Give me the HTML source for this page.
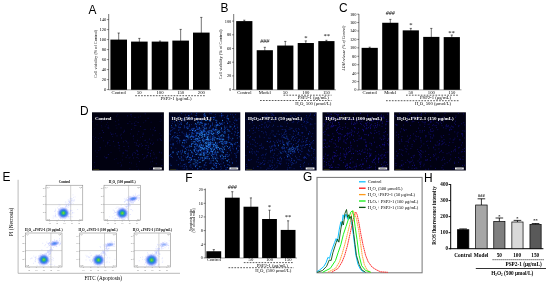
<!DOCTYPE html>
<html lang="en"><head><meta charset="utf-8"><title>Figure</title>
<style>html,body{margin:0;padding:0;background:#fff}svg{display:block}.f{font-family:"Liberation Serif", serif}.g{font-family:"Liberation Sans", sans-serif}</style></head><body>
<svg width="550" height="283" viewBox="0 0 550 283">
<rect width="550" height="283" fill="#fff"/>
<defs>
<radialGradient id="blob"><stop offset="0" stop-color="#9bd820"/><stop offset="0.16" stop-color="#3cc458"/><stop offset="0.3" stop-color="#22a0b0"/><stop offset="0.42" stop-color="#2a7de6"/><stop offset="0.6" stop-color="#4f7cf2" stop-opacity="0.8"/><stop offset="0.8" stop-color="#8a9cff" stop-opacity="0.35"/><stop offset="1" stop-color="#c8d0ff" stop-opacity="0"/></radialGradient>
<radialGradient id="blob2"><stop offset="0" stop-color="#3a86f0"/><stop offset="0.4" stop-color="#5b86f5" stop-opacity="0.8"/><stop offset="0.75" stop-color="#98a8ff" stop-opacity="0.4"/><stop offset="1" stop-color="#d0d6ff" stop-opacity="0"/></radialGradient>
<radialGradient id="halo"><stop offset="0" stop-color="#b4bcff" stop-opacity="0.7"/><stop offset="1" stop-color="#d8dcff" stop-opacity="0"/></radialGradient>
<radialGradient id="glowA"><stop offset="0" stop-color="#1c5fd0" stop-opacity="0.75"/><stop offset="0.5" stop-color="#123c9c" stop-opacity="0.45"/><stop offset="1" stop-color="#0a1a60" stop-opacity="0"/></radialGradient>
<radialGradient id="glowB"><stop offset="0" stop-color="#1c50c0" stop-opacity="0.6"/><stop offset="1" stop-color="#0a1a60" stop-opacity="0"/></radialGradient>
<radialGradient id="hole"><stop offset="0" stop-color="#01031c" stop-opacity="0.9"/><stop offset="1" stop-color="#01031c" stop-opacity="0"/></radialGradient>
</defs>
<text class="g" x="88.50" y="14.45" font-size="11.9">A</text>
<text class="g" x="220.60" y="11.70" font-size="11.9">B</text>
<text class="g" x="338.90" y="11.75" font-size="11.9">C</text>
<text class="g" x="80.00" y="114.95" font-size="11.9">D</text>
<text class="g" x="2.60" y="180.70" font-size="11.9">E</text>
<text class="g" x="185.25" y="181.80" font-size="11.9">F</text>
<text class="g" x="303.10" y="180.65" font-size="11.9">G</text>
<text class="g" x="424.05" y="182.10" font-size="11.9">H</text>
<line x1="108.70" y1="14.00" x2="108.70" y2="89.80" stroke="#000" stroke-width="0.55"/>
<line x1="107.10" y1="89.60" x2="108.70" y2="89.60" stroke="#000" stroke-width="0.5"/>
<text class="f" x="106.30" y="91.12" font-size="4.6" text-anchor="end">0</text>
<line x1="107.10" y1="79.60" x2="108.70" y2="79.60" stroke="#000" stroke-width="0.5"/>
<text class="f" x="106.30" y="81.12" font-size="4.6" text-anchor="end">20</text>
<line x1="107.10" y1="69.60" x2="108.70" y2="69.60" stroke="#000" stroke-width="0.5"/>
<text class="f" x="106.30" y="71.12" font-size="4.6" text-anchor="end">40</text>
<line x1="107.10" y1="59.60" x2="108.70" y2="59.60" stroke="#000" stroke-width="0.5"/>
<text class="f" x="106.30" y="61.12" font-size="4.6" text-anchor="end">60</text>
<line x1="107.10" y1="49.60" x2="108.70" y2="49.60" stroke="#000" stroke-width="0.5"/>
<text class="f" x="106.30" y="51.12" font-size="4.6" text-anchor="end">80</text>
<line x1="107.10" y1="39.60" x2="108.70" y2="39.60" stroke="#000" stroke-width="0.5"/>
<text class="f" x="106.30" y="41.12" font-size="4.6" text-anchor="end">100</text>
<line x1="107.10" y1="29.60" x2="108.70" y2="29.60" stroke="#000" stroke-width="0.5"/>
<text class="f" x="106.30" y="31.12" font-size="4.6" text-anchor="end">120</text>
<line x1="107.10" y1="19.60" x2="108.70" y2="19.60" stroke="#000" stroke-width="0.5"/>
<text class="f" x="106.30" y="21.12" font-size="4.6" text-anchor="end">140</text>
<rect x="110.40" y="39.60" width="16.60" height="50.20" fill="#000"/>
<line x1="118.70" y1="33.00" x2="118.70" y2="40.10" stroke="#000" stroke-width="0.55"/>
<line x1="117.60" y1="33.00" x2="119.80" y2="33.00" stroke="#000" stroke-width="0.55"/>
<rect x="131.05" y="41.60" width="16.60" height="48.20" fill="#000"/>
<line x1="139.35" y1="38.40" x2="139.35" y2="42.10" stroke="#000" stroke-width="0.55"/>
<line x1="138.25" y1="38.40" x2="140.45" y2="38.40" stroke="#000" stroke-width="0.55"/>
<rect x="151.70" y="41.60" width="16.60" height="48.20" fill="#000"/>
<line x1="160.00" y1="41.00" x2="160.00" y2="42.10" stroke="#000" stroke-width="0.55"/>
<line x1="158.90" y1="41.00" x2="161.10" y2="41.00" stroke="#000" stroke-width="0.55"/>
<rect x="172.35" y="40.60" width="16.60" height="49.20" fill="#000"/>
<line x1="180.65" y1="29.40" x2="180.65" y2="41.10" stroke="#000" stroke-width="0.55"/>
<line x1="179.55" y1="29.40" x2="181.75" y2="29.40" stroke="#000" stroke-width="0.55"/>
<rect x="193.00" y="32.60" width="16.60" height="57.20" fill="#000"/>
<line x1="201.30" y1="17.40" x2="201.30" y2="33.10" stroke="#000" stroke-width="0.55"/>
<line x1="200.20" y1="17.40" x2="202.40" y2="17.40" stroke="#000" stroke-width="0.55"/>
<line x1="108.70" y1="89.80" x2="211.00" y2="89.80" stroke="#000" stroke-width="0.4"/>
<text class="f" x="118.70" y="94.20" font-size="4.7" text-anchor="middle">Control</text>
<text class="f" x="139.35" y="94.20" font-size="4.7" text-anchor="middle">50</text>
<text class="f" x="160.00" y="94.20" font-size="4.7" text-anchor="middle">100</text>
<text class="f" x="180.65" y="94.20" font-size="4.7" text-anchor="middle">150</text>
<text class="f" x="201.30" y="94.20" font-size="4.7" text-anchor="middle">200</text>
<text class="f" x="96.80" y="53.80" font-size="4.2" text-anchor="middle" transform="rotate(-90 96.80 53.80)">Cell viability (% of Control)</text>
<line x1="135.20" y1="95.70" x2="205.60" y2="95.70" stroke="#000" stroke-width="0.65" stroke-dasharray="1.7 1.25"/>
<text class="f" x="191.50" y="99.90" font-size="4.7" text-anchor="end">PSP2-1 (μg/mL)</text>
<line x1="233.70" y1="14.00" x2="233.70" y2="89.80" stroke="#000" stroke-width="0.55"/>
<line x1="232.10" y1="89.60" x2="233.70" y2="89.60" stroke="#000" stroke-width="0.5"/>
<text class="f" x="231.30" y="91.05" font-size="4.4" text-anchor="end">0</text>
<line x1="232.10" y1="75.90" x2="233.70" y2="75.90" stroke="#000" stroke-width="0.5"/>
<text class="f" x="231.30" y="77.35" font-size="4.4" text-anchor="end">20</text>
<line x1="232.10" y1="62.20" x2="233.70" y2="62.20" stroke="#000" stroke-width="0.5"/>
<text class="f" x="231.30" y="63.65" font-size="4.4" text-anchor="end">40</text>
<line x1="232.10" y1="48.50" x2="233.70" y2="48.50" stroke="#000" stroke-width="0.5"/>
<text class="f" x="231.30" y="49.95" font-size="4.4" text-anchor="end">60</text>
<line x1="232.10" y1="34.80" x2="233.70" y2="34.80" stroke="#000" stroke-width="0.5"/>
<text class="f" x="231.30" y="36.25" font-size="4.4" text-anchor="end">80</text>
<line x1="232.10" y1="21.10" x2="233.70" y2="21.10" stroke="#000" stroke-width="0.5"/>
<text class="f" x="231.30" y="22.55" font-size="4.4" text-anchor="end">100</text>
<rect x="236.20" y="21.10" width="16.20" height="68.70" fill="#000"/>
<line x1="244.30" y1="20.20" x2="244.30" y2="21.60" stroke="#000" stroke-width="0.55"/>
<line x1="243.20" y1="20.20" x2="245.40" y2="20.20" stroke="#000" stroke-width="0.55"/>
<rect x="256.70" y="50.21" width="16.20" height="39.59" fill="#000"/>
<line x1="264.80" y1="47.30" x2="264.80" y2="50.71" stroke="#000" stroke-width="0.55"/>
<line x1="263.70" y1="47.30" x2="265.90" y2="47.30" stroke="#000" stroke-width="0.55"/>
<rect x="277.20" y="45.55" width="16.20" height="44.25" fill="#000"/>
<line x1="285.30" y1="41.40" x2="285.30" y2="46.05" stroke="#000" stroke-width="0.55"/>
<line x1="284.20" y1="41.40" x2="286.40" y2="41.40" stroke="#000" stroke-width="0.55"/>
<rect x="297.70" y="43.02" width="16.20" height="46.78" fill="#000"/>
<line x1="305.80" y1="40.90" x2="305.80" y2="43.52" stroke="#000" stroke-width="0.55"/>
<line x1="304.70" y1="40.90" x2="306.90" y2="40.90" stroke="#000" stroke-width="0.55"/>
<rect x="318.30" y="41.10" width="16.20" height="48.70" fill="#000"/>
<line x1="326.40" y1="40.30" x2="326.40" y2="41.60" stroke="#000" stroke-width="0.55"/>
<line x1="325.30" y1="40.30" x2="327.50" y2="40.30" stroke="#000" stroke-width="0.55"/>
<line x1="233.70" y1="89.80" x2="336.00" y2="89.80" stroke="#000" stroke-width="0.4"/>
<text class="f" x="244.30" y="94.25" font-size="4.7" text-anchor="middle">Control</text>
<text class="f" x="264.80" y="94.25" font-size="4.7" text-anchor="middle">Model</text>
<text class="f" x="285.30" y="94.25" font-size="4.7" text-anchor="middle">50</text>
<text class="f" x="305.80" y="94.25" font-size="4.7" text-anchor="middle">100</text>
<text class="f" x="326.40" y="94.25" font-size="4.7" text-anchor="middle">150</text>
<text class="f" x="264.80" y="42.60" font-size="6.2" text-anchor="middle" font-style="italic">###</text>
<text class="f" x="306.00" y="39.90" font-size="6.6" text-anchor="middle">*</text>
<text class="f" x="326.70" y="38.10" font-size="6.6" text-anchor="middle">**</text>
<text class="f" x="222.00" y="54.40" font-size="4.35" text-anchor="middle" transform="rotate(-90 222.00 54.40)">Cell viability (% of Control)</text>
<line x1="283.50" y1="95.20" x2="331.50" y2="95.20" stroke="#000" stroke-width="0.65" stroke-dasharray="1.7 1.25"/>
<line x1="260.00" y1="100.50" x2="331.50" y2="100.50" stroke="#000" stroke-width="0.65" stroke-dasharray="1.7 1.25"/>
<text class="f" x="328.80" y="99.20" font-size="4.7" text-anchor="end">PSP2-1 (μg/mL)</text>
<text class="f" x="331.20" y="104.90" font-size="4.7" text-anchor="end">H<tspan font-size="60%" dy="0.9">2</tspan><tspan dy="-0.9">O</tspan><tspan font-size="60%" dy="0.9">2</tspan><tspan dy="-0.9"> 500 (μmol/L)</tspan></text>
<line x1="358.90" y1="14.00" x2="358.90" y2="89.80" stroke="#000" stroke-width="0.55"/>
<line x1="357.30" y1="90.00" x2="358.90" y2="90.00" stroke="#000" stroke-width="0.5"/>
<text class="f" x="356.50" y="91.45" font-size="4.4" text-anchor="end">0</text>
<line x1="357.30" y1="81.57" x2="358.90" y2="81.57" stroke="#000" stroke-width="0.5"/>
<text class="f" x="356.50" y="83.02" font-size="4.4" text-anchor="end">20</text>
<line x1="357.30" y1="73.14" x2="358.90" y2="73.14" stroke="#000" stroke-width="0.5"/>
<text class="f" x="356.50" y="74.59" font-size="4.4" text-anchor="end">40</text>
<line x1="357.30" y1="64.71" x2="358.90" y2="64.71" stroke="#000" stroke-width="0.5"/>
<text class="f" x="356.50" y="66.16" font-size="4.4" text-anchor="end">60</text>
<line x1="357.30" y1="56.28" x2="358.90" y2="56.28" stroke="#000" stroke-width="0.5"/>
<text class="f" x="356.50" y="57.73" font-size="4.4" text-anchor="end">80</text>
<line x1="357.30" y1="47.85" x2="358.90" y2="47.85" stroke="#000" stroke-width="0.5"/>
<text class="f" x="356.50" y="49.30" font-size="4.4" text-anchor="end">100</text>
<line x1="357.30" y1="39.42" x2="358.90" y2="39.42" stroke="#000" stroke-width="0.5"/>
<text class="f" x="356.50" y="40.87" font-size="4.4" text-anchor="end">120</text>
<line x1="357.30" y1="30.99" x2="358.90" y2="30.99" stroke="#000" stroke-width="0.5"/>
<text class="f" x="356.50" y="32.44" font-size="4.4" text-anchor="end">140</text>
<line x1="357.30" y1="22.56" x2="358.90" y2="22.56" stroke="#000" stroke-width="0.5"/>
<text class="f" x="356.50" y="24.01" font-size="4.4" text-anchor="end">160</text>
<line x1="357.30" y1="14.13" x2="358.90" y2="14.13" stroke="#000" stroke-width="0.5"/>
<text class="f" x="356.50" y="15.58" font-size="4.4" text-anchor="end">180</text>
<rect x="361.60" y="47.85" width="16.20" height="41.95" fill="#000"/>
<line x1="369.70" y1="47.20" x2="369.70" y2="48.35" stroke="#000" stroke-width="0.55"/>
<line x1="368.60" y1="47.20" x2="370.80" y2="47.20" stroke="#000" stroke-width="0.55"/>
<rect x="382.20" y="22.77" width="16.20" height="67.03" fill="#000"/>
<line x1="390.30" y1="19.40" x2="390.30" y2="23.27" stroke="#000" stroke-width="0.55"/>
<line x1="389.20" y1="19.40" x2="391.40" y2="19.40" stroke="#000" stroke-width="0.55"/>
<rect x="402.70" y="30.36" width="16.20" height="59.44" fill="#000"/>
<line x1="410.80" y1="28.40" x2="410.80" y2="30.86" stroke="#000" stroke-width="0.55"/>
<line x1="409.70" y1="28.40" x2="411.90" y2="28.40" stroke="#000" stroke-width="0.55"/>
<rect x="423.20" y="36.89" width="16.20" height="52.91" fill="#000"/>
<line x1="431.30" y1="28.40" x2="431.30" y2="37.39" stroke="#000" stroke-width="0.55"/>
<line x1="430.20" y1="28.40" x2="432.40" y2="28.40" stroke="#000" stroke-width="0.55"/>
<rect x="443.70" y="37.10" width="16.20" height="52.70" fill="#000"/>
<line x1="451.80" y1="35.00" x2="451.80" y2="37.60" stroke="#000" stroke-width="0.55"/>
<line x1="450.70" y1="35.00" x2="452.90" y2="35.00" stroke="#000" stroke-width="0.55"/>
<line x1="358.90" y1="89.80" x2="461.50" y2="89.80" stroke="#000" stroke-width="0.4"/>
<text class="f" x="369.70" y="94.25" font-size="4.7" text-anchor="middle">Control</text>
<text class="f" x="390.30" y="94.25" font-size="4.7" text-anchor="middle">Model</text>
<text class="f" x="410.80" y="94.25" font-size="4.7" text-anchor="middle">50</text>
<text class="f" x="431.30" y="94.25" font-size="4.7" text-anchor="middle">100</text>
<text class="f" x="451.80" y="94.25" font-size="4.7" text-anchor="middle">150</text>
<text class="f" x="390.30" y="14.90" font-size="6.2" text-anchor="middle" font-style="italic">###</text>
<text class="f" x="411.00" y="27.20" font-size="6.6" text-anchor="middle">*</text>
<text class="f" x="451.60" y="34.60" font-size="6.6" text-anchor="middle">**</text>
<text class="f" x="345.10" y="48.00" font-size="4.0" text-anchor="middle" transform="rotate(-90 345.10 48.00)" font-style="italic">LDH release (% of Control)</text>
<line x1="406.00" y1="95.20" x2="458.50" y2="95.20" stroke="#000" stroke-width="0.65" stroke-dasharray="1.7 1.25"/>
<line x1="386.00" y1="100.70" x2="458.50" y2="100.70" stroke="#000" stroke-width="0.65" stroke-dasharray="1.7 1.25"/>
<text class="f" x="451.00" y="99.40" font-size="4.7" text-anchor="end">PSP2-1 (μg/mL)</text>
<text class="f" x="451.00" y="105.30" font-size="4.7" text-anchor="end">H<tspan font-size="60%" dy="0.9">2</tspan><tspan dy="-0.9">O</tspan><tspan font-size="60%" dy="0.9">2</tspan><tspan dy="-0.9"> 500 (μmol/L)</tspan></text>
<rect x="92.00" y="112.30" width="71.90" height="58.20" fill="#010110"/>
<path d="M115.6 121.6h0M138.6 117.2h0M130.5 133.8h0M96.9 141.8h0M95.4 137.6h0M97.7 118.2h0M122.6 159.9h0M101.5 125.7h0M136.9 166.7h0M133.4 135.6h0M161.4 115.7h0M153.2 129.5h0M102.9 119.8h0M114.5 159.3h0M105.5 146.0h0M137.7 134.2h0M131.3 116.7h0M97.0 124.8h0M140.6 137.3h0M114.9 146.2h0M124.7 130.1h0M148.6 152.7h0M110.0 145.6h0M129.7 162.6h0M144.1 129.4h0M161.7 119.8h0M122.2 156.0h0M103.5 140.8h0M95.6 150.9h0M146.5 145.5h0M154.3 130.9h0M141.7 146.7h0M133.6 138.9h0M151.8 166.6h0M126.1 150.7h0M97.1 152.8h0M138.3 169.3h0M150.6 129.2h0M119.9 150.9h0M94.4 139.2h0M104.6 119.7h0M96.9 156.6h0M101.9 127.1h0M120.3 162.4h0M98.5 138.5h0M131.4 163.1h0M150.4 162.0h0M112.4 136.6h0M118.0 163.1h0M160.1 121.6h0M105.2 126.2h0M109.2 140.5h0M134.2 128.0h0M93.1 136.8h0M118.8 145.2h0M159.8 152.2h0M129.0 148.1h0M140.3 116.2h0M156.0 157.2h0M154.3 158.3h0M120.4 135.7h0M100.1 149.0h0M97.2 116.9h0M107.5 122.3h0M116.7 116.1h0M92.8 121.7h0M99.9 133.7h0M94.6 162.6h0M136.0 121.5h0M110.5 132.8h0M118.4 120.1h0M152.5 169.3h0M125.6 140.5h0M98.8 118.9h0M116.9 128.1h0M151.1 122.2h0M94.4 166.9h0M129.9 121.4h0M131.0 114.6h0M129.9 168.5h0M153.5 152.5h0M111.2 133.9h0M104.5 156.8h0M130.2 157.2h0M116.0 125.7h0M149.8 168.8h0M152.7 158.7h0M150.3 155.0h0M108.7 142.4h0M117.8 114.7h0M94.8 128.9h0M111.0 152.3h0M160.0 138.4h0M158.7 169.0h0M159.9 133.7h0M108.3 125.9h0M106.6 124.7h0M136.7 164.1h0M151.9 140.2h0M138.7 158.4h0M98.8 150.5h0M156.8 157.4h0M145.5 140.2h0M105.4 157.8h0M116.2 158.4h0M161.1 135.5h0M121.0 166.7h0M143.8 122.7h0M101.7 121.7h0M156.4 158.7h0" stroke="#15157a" stroke-width="0.9" stroke-linecap="round" fill="none" opacity="0.55"/>
<path d="M156.2 163.8h0M161.2 140.5h0M126.1 157.3h0M139.8 144.7h0M160.8 139.3h0M101.3 137.6h0M108.3 154.5h0M143.1 134.4h0M137.8 154.7h0M139.3 161.6h0M137.0 157.6h0M161.9 165.5h0M127.3 155.3h0M108.0 127.8h0M106.6 158.0h0M118.3 142.8h0M134.9 142.6h0M128.5 146.3h0M146.5 157.0h0M134.8 125.4h0M129.1 158.0h0M111.7 134.6h0M154.1 154.1h0M138.1 154.3h0M140.7 126.5h0M113.0 134.1h0M152.8 135.1h0M123.6 132.2h0M113.5 141.4h0M119.1 148.1h0M100.2 147.6h0M127.7 115.8h0M149.6 139.1h0M102.3 130.7h0M142.7 136.6h0M150.5 153.5h0M148.7 147.6h0M159.3 152.2h0M145.2 113.8h0M152.3 161.3h0M133.2 136.4h0M123.2 152.7h0M147.0 155.6h0M123.5 141.8h0M142.7 154.6h0M137.4 140.3h0M121.7 138.0h0M152.3 144.4h0M124.4 131.2h0M147.9 149.7h0M136.9 150.3h0M106.9 157.5h0M143.2 133.2h0M159.2 168.3h0M115.6 133.7h0M142.7 145.6h0M131.6 129.4h0M118.9 124.2h0M124.0 146.6h0M103.4 132.5h0M137.1 150.3h0M126.4 141.3h0M145.3 148.3h0M148.2 145.9h0M132.8 154.0h0M138.8 131.4h0M128.0 143.0h0M136.2 145.2h0M138.0 145.5h0M135.9 125.4h0M144.7 157.8h0M145.0 140.4h0M145.1 129.5h0M107.7 143.8h0M123.1 153.4h0M121.4 165.1h0M131.9 123.8h0M125.8 150.3h0M145.9 145.5h0M161.7 152.9h0M137.7 151.4h0M154.4 127.8h0M135.6 153.2h0M133.3 158.0h0M147.5 155.7h0M157.8 140.0h0M132.5 155.2h0M153.7 143.1h0M119.3 145.6h0M143.8 158.8h0M150.5 143.3h0M151.7 150.6h0M141.3 143.8h0M134.1 152.6h0M121.1 134.2h0M138.1 122.5h0M131.0 114.9h0M127.1 151.0h0M147.1 142.2h0M134.3 123.2h0M155.5 130.6h0M135.0 117.5h0M150.5 156.1h0M107.6 142.3h0M148.1 118.3h0M108.8 128.1h0M127.9 123.4h0M138.5 146.5h0M148.1 152.8h0M162.0 159.3h0M117.0 135.9h0M121.0 127.9h0M136.7 143.1h0M145.8 120.8h0M118.2 142.7h0" stroke="#1c1c9a" stroke-width="0.9" stroke-linecap="round" fill="none" opacity="0.7"/>
<text class="f" x="94.90" y="119.60" font-size="5.0" font-weight="bold" fill="#fff">Control</text>
<rect x="153.00" y="167.50" width="8.80" height="2.00" fill="#f4f4f4"/>
<line x1="154.50" y1="168.60" x2="160.30" y2="168.60" stroke="#555" stroke-width="0.5"/>
<line x1="93.20" y1="169.60" x2="99.20" y2="169.60" stroke="#5a5a10" stroke-width="0.5"/>
<rect x="168.90" y="112.30" width="71.40" height="58.20" fill="#01031e"/>
<ellipse cx="207.0" cy="142.0" rx="30.0" ry="26.0" fill="url(#glowA)" opacity="0.15"/>
<path d="M215.7 116.8h0M221.1 127.4h0M174.9 128.1h0M220.6 124.7h0M221.3 168.3h0M204.2 134.8h0M203.1 151.8h0M223.2 148.0h0M214.6 117.5h0M180.0 127.5h0M221.6 130.3h0M209.3 113.8h0M173.9 128.3h0M216.6 152.3h0M216.9 129.6h0M205.8 139.4h0M202.3 119.8h0M232.1 124.4h0M238.0 166.1h0M170.9 139.1h0M226.9 167.9h0M201.1 128.3h0M184.3 166.6h0M184.4 146.0h0M179.6 142.8h0M236.2 120.6h0M227.0 141.9h0M231.6 152.9h0M185.9 163.9h0M203.6 114.5h0M170.0 140.9h0M201.2 130.2h0M179.5 132.6h0M191.8 160.7h0M169.8 155.6h0M228.3 119.9h0M234.4 153.5h0M232.6 129.5h0M195.7 135.3h0M239.4 146.4h0M194.9 137.3h0M188.9 115.8h0M176.8 160.3h0M189.6 166.1h0M187.1 128.1h0M205.4 123.8h0M195.8 167.2h0M231.4 159.1h0M213.7 164.8h0M235.4 144.2h0M219.9 115.9h0M220.8 138.6h0M222.2 149.6h0M189.7 115.9h0M234.4 120.3h0M202.7 132.6h0M190.5 154.9h0M237.8 127.8h0M215.5 130.1h0M208.6 135.4h0M181.4 122.2h0M184.2 164.4h0M204.4 125.6h0M233.0 169.5h0M201.1 121.0h0M183.1 118.2h0M193.6 118.3h0M186.4 127.7h0M209.5 163.3h0M222.0 136.5h0M198.6 142.8h0M196.0 132.2h0M174.0 128.8h0M237.2 120.2h0M204.8 148.7h0M229.9 125.3h0M188.6 127.2h0M197.6 138.3h0M236.3 161.1h0M230.6 114.3h0M172.0 153.3h0M232.2 139.9h0M210.7 113.1h0M197.0 165.6h0M227.3 161.5h0M237.6 127.2h0M177.3 121.8h0M206.2 151.7h0M235.4 154.0h0M214.9 156.4h0M201.6 144.3h0M172.5 157.4h0M185.9 165.2h0M214.8 130.3h0M178.6 127.4h0M214.1 152.6h0M177.5 117.1h0M206.3 146.1h0M196.8 125.8h0M211.7 113.7h0M190.7 139.2h0M236.6 149.6h0M231.4 140.0h0M186.1 127.1h0M236.8 153.0h0M191.2 114.3h0M204.5 151.3h0M199.0 127.7h0M216.3 165.5h0M185.5 115.0h0M193.3 136.9h0M217.3 124.3h0M225.3 154.9h0M204.9 124.7h0M237.4 130.7h0M226.9 126.2h0M185.2 156.1h0M190.3 167.0h0M204.3 123.7h0M185.3 136.7h0M216.1 166.8h0M179.9 135.4h0M184.6 168.2h0M179.6 116.0h0M173.9 135.4h0M232.4 163.1h0M220.8 169.6h0M234.7 131.7h0M182.6 166.1h0M221.8 114.9h0M216.1 134.5h0M195.8 131.9h0M181.5 113.3h0M189.2 133.0h0M236.4 120.1h0M237.0 124.8h0M194.6 159.6h0M227.1 137.6h0M173.1 139.9h0M195.7 165.1h0M183.2 133.7h0M232.3 114.8h0M198.4 159.0h0M223.2 115.4h0M172.1 116.6h0M233.9 127.6h0M221.9 164.0h0M193.4 128.5h0M236.5 148.0h0M188.0 153.7h0M191.8 128.7h0M170.0 155.9h0M233.7 149.0h0M235.5 114.5h0M186.0 140.0h0M236.5 167.1h0M196.7 127.3h0M199.7 141.0h0M234.5 123.5h0M225.7 154.9h0M227.1 156.8h0M212.1 131.7h0M192.0 133.6h0M224.3 117.6h0M183.5 155.7h0M187.0 116.8h0M172.1 144.4h0M192.4 168.6h0M231.4 169.0h0M188.2 117.9h0M176.4 141.3h0M219.2 138.4h0M186.0 136.7h0M213.0 151.3h0M221.9 161.0h0M216.1 120.0h0M228.4 129.7h0M209.3 134.2h0M221.2 124.4h0M187.0 127.0h0M180.4 163.1h0M210.1 131.6h0M197.3 169.3h0M205.1 126.2h0M226.1 150.1h0M238.9 118.9h0M202.8 159.5h0M228.4 164.9h0M172.5 129.7h0M178.0 123.8h0M237.6 146.1h0M234.6 134.2h0M230.2 138.5h0M187.8 157.1h0M235.7 119.1h0M211.3 148.2h0M184.9 134.0h0M179.6 124.6h0M187.5 147.0h0M215.2 124.6h0M170.5 131.6h0M217.0 123.6h0M191.5 124.6h0M225.2 144.1h0M174.1 118.8h0M197.3 144.2h0M214.3 118.3h0M181.1 152.5h0M198.3 129.1h0M191.2 167.1h0M191.5 145.2h0M194.6 136.7h0M230.0 169.5h0M195.1 124.3h0M220.5 124.6h0M170.1 164.1h0M199.3 159.5h0M198.1 163.1h0M201.9 122.3h0M170.7 144.3h0M214.4 164.6h0M175.9 148.3h0M195.6 141.7h0M179.9 129.1h0M206.1 165.5h0M177.3 140.9h0M225.9 167.8h0M183.5 120.3h0M235.5 168.3h0M203.4 116.1h0M234.3 135.1h0M232.8 148.2h0M227.3 122.2h0M224.6 125.7h0M197.9 161.0h0M227.6 123.5h0M184.9 135.7h0M205.8 134.8h0M178.3 127.1h0M220.3 163.9h0M172.6 144.9h0M222.6 115.3h0M228.2 119.8h0M211.5 144.2h0M213.5 130.4h0M199.0 146.1h0M199.4 150.4h0M200.9 137.9h0M171.3 148.1h0M203.9 126.4h0M223.0 157.2h0M201.7 123.3h0M202.7 119.2h0M178.7 137.5h0M176.1 138.1h0M205.3 115.4h0M214.1 117.8h0M220.9 157.1h0M205.4 116.2h0M204.9 134.5h0M236.1 120.8h0M229.5 169.5h0M220.8 159.2h0M183.2 168.7h0M204.0 167.2h0M233.6 122.4h0M224.7 165.8h0M174.3 133.0h0M222.5 122.1h0M232.3 128.7h0M226.6 121.2h0M204.8 165.2h0M184.2 128.0h0M205.0 131.2h0M172.3 123.4h0M181.0 166.1h0M217.1 163.8h0M181.5 157.5h0M177.7 143.1h0M214.1 133.5h0M230.6 144.5h0M210.2 163.1h0M177.0 169.3h0M213.7 135.4h0M225.4 128.1h0M238.8 145.8h0M194.8 156.4h0M200.6 123.1h0M221.6 115.8h0M226.9 127.5h0M214.3 168.8h0M210.6 150.7h0M191.5 113.2h0M172.1 121.6h0M212.7 137.6h0M205.5 163.8h0M178.9 126.0h0M215.3 114.4h0M169.9 133.2h0M177.1 133.3h0" stroke="#0f2a96" stroke-width="1.0" stroke-linecap="round" fill="none" opacity="0.8"/>
<path d="M211.0 162.9h0M196.1 136.3h0M191.6 129.2h0M207.4 151.1h0M229.3 154.9h0M229.9 121.8h0M194.9 149.2h0M234.3 143.7h0M190.7 136.3h0M194.4 128.3h0M235.5 132.0h0M229.5 147.4h0M195.4 148.6h0M237.8 152.0h0M231.0 143.6h0M216.8 138.8h0M215.1 162.8h0M179.8 141.0h0M211.6 132.9h0M201.1 154.6h0M213.2 117.2h0M206.4 124.1h0M205.9 124.5h0M208.3 149.5h0M207.6 146.5h0M190.8 164.9h0M203.4 129.8h0M187.8 136.3h0M212.5 123.1h0M204.4 164.8h0M220.0 139.6h0M209.4 140.1h0M206.1 153.7h0M206.6 127.8h0M219.4 132.2h0M187.1 124.0h0M171.3 147.8h0M178.8 151.9h0M192.3 136.1h0M213.3 163.7h0M209.7 144.9h0M201.1 149.3h0M212.5 142.8h0M197.5 120.8h0M196.9 117.3h0M230.3 150.6h0M184.1 164.3h0M217.1 148.8h0M210.8 144.7h0M227.0 118.1h0M183.4 119.7h0M196.4 132.3h0M214.0 146.3h0M207.6 131.2h0M198.6 157.2h0M221.5 143.6h0M200.9 166.8h0M195.7 152.4h0M228.9 137.8h0M222.7 124.1h0M226.2 145.2h0M176.9 152.7h0M190.0 162.5h0M194.1 139.4h0M212.4 136.7h0M211.9 133.1h0M219.8 142.1h0M229.1 142.5h0M173.1 143.5h0M215.9 159.1h0M186.4 166.8h0M204.2 152.9h0M200.0 124.1h0M227.8 156.5h0M236.2 155.7h0M196.1 115.4h0M194.6 131.2h0M191.5 151.3h0M213.2 137.7h0M210.3 139.7h0M211.0 154.0h0M225.2 131.0h0M178.4 164.8h0M209.2 159.7h0M175.8 136.7h0M207.5 118.9h0M197.2 153.6h0M227.5 167.5h0M190.6 119.6h0M216.9 157.0h0M210.7 121.2h0M221.9 154.7h0M217.5 134.2h0M212.8 154.7h0M213.2 149.7h0M207.3 156.2h0M195.9 140.7h0M201.2 151.1h0M237.3 138.0h0M222.0 151.4h0M204.9 125.0h0M216.0 163.5h0M217.1 148.8h0M203.2 144.7h0M179.9 158.8h0M199.2 124.3h0M192.7 128.8h0M223.3 158.9h0M181.2 156.8h0M223.9 132.7h0M178.8 130.1h0M195.0 147.5h0M211.4 117.5h0M224.2 122.7h0M193.8 128.3h0M196.7 162.8h0M223.2 151.6h0M213.1 117.2h0M197.1 133.2h0M188.4 150.1h0M192.9 130.6h0M218.3 163.3h0M210.3 126.4h0M230.1 146.8h0M224.6 165.7h0M228.4 134.9h0M227.0 154.4h0M177.8 135.5h0M179.9 140.3h0M218.0 124.9h0M214.2 165.5h0M181.9 159.0h0M203.0 146.3h0M204.1 158.0h0M226.7 143.4h0M181.2 153.9h0M198.1 152.1h0M212.0 168.0h0M228.6 134.8h0M196.8 148.9h0M229.6 162.1h0M216.9 120.9h0M183.0 146.0h0M190.6 160.2h0M221.6 115.3h0M191.5 144.7h0M197.6 139.5h0M215.9 129.0h0M215.9 131.8h0M196.7 150.6h0M196.1 146.6h0M237.4 142.4h0M204.2 153.8h0M200.1 159.3h0M182.6 151.9h0M197.3 129.2h0M234.6 126.4h0M229.8 165.3h0M204.8 139.9h0M199.0 131.9h0M215.5 147.3h0M210.4 169.5h0M200.8 149.6h0M234.7 125.9h0M181.3 124.4h0M216.5 165.3h0M176.3 136.9h0M170.6 154.5h0M193.0 137.7h0M208.0 150.7h0M200.4 142.2h0M196.6 143.8h0M184.7 143.0h0M170.3 134.2h0M183.1 146.1h0M188.5 115.6h0M193.0 153.8h0M214.3 140.4h0M189.4 124.7h0M232.6 145.9h0M185.2 140.8h0M211.0 139.5h0M201.7 120.0h0M187.0 169.0h0M192.6 155.5h0M174.8 137.6h0M212.0 158.6h0M185.7 151.5h0M214.3 130.2h0M216.1 127.6h0M191.9 141.7h0M188.0 118.6h0M198.9 154.2h0M199.3 162.3h0M185.0 121.0h0M236.5 148.4h0M225.0 128.8h0M222.3 146.2h0M219.3 142.4h0M229.9 131.6h0M188.7 118.4h0M229.1 130.2h0M187.2 127.0h0M198.5 121.7h0M201.5 132.0h0M196.5 126.6h0M207.7 134.6h0M209.2 146.0h0M196.8 129.3h0M221.7 116.8h0M193.4 137.3h0M200.6 157.9h0M198.6 157.4h0M230.2 149.0h0M216.3 144.0h0M216.2 122.5h0M225.0 133.5h0M225.7 143.4h0M228.4 139.8h0M199.5 145.9h0M198.9 133.3h0M208.9 144.3h0M235.8 142.7h0M209.5 144.2h0M204.3 130.3h0M205.7 131.7h0M238.2 150.6h0M206.0 135.3h0M186.4 123.8h0M206.4 139.6h0M234.4 144.1h0M210.2 136.1h0M195.5 166.0h0M226.0 169.5h0M200.4 142.5h0M190.3 157.5h0M180.5 151.0h0M227.8 164.6h0M189.1 159.4h0M193.4 129.9h0M181.9 160.5h0M238.3 132.5h0M192.6 136.6h0M196.7 113.3h0M194.2 161.0h0M193.9 133.8h0M171.2 156.5h0M186.4 159.0h0M174.6 121.7h0M212.5 129.8h0M221.8 142.1h0M184.7 152.0h0M193.3 136.4h0M227.5 118.6h0M202.4 147.5h0M175.0 132.5h0M216.7 167.4h0M219.6 137.1h0M184.6 127.0h0M194.4 144.4h0M206.1 168.7h0M212.5 124.9h0M236.3 157.2h0M208.9 130.5h0M171.5 125.6h0M224.3 129.2h0M181.9 145.1h0M211.6 151.7h0M219.5 164.5h0M191.1 157.7h0M188.2 153.1h0M210.4 145.9h0M225.4 141.7h0M228.1 156.0h0M209.6 132.9h0M192.7 133.6h0M203.2 141.6h0M221.6 128.2h0M193.5 136.9h0M210.7 125.4h0M237.6 133.0h0M206.9 146.4h0M210.6 151.6h0M212.3 144.6h0M171.0 130.6h0M212.8 138.9h0M191.4 132.7h0M205.9 162.6h0M197.8 128.0h0M196.4 145.0h0M207.9 146.4h0M206.3 156.9h0M210.1 137.8h0M213.8 117.5h0M217.0 145.1h0M199.9 129.9h0M180.1 127.4h0M220.3 150.7h0M206.6 150.2h0M195.5 143.1h0M207.8 150.9h0M205.7 139.7h0M204.4 131.7h0M233.7 117.1h0M220.2 155.4h0M221.6 123.2h0M190.5 146.3h0M216.6 125.7h0M199.7 135.6h0M208.2 147.4h0M201.5 122.2h0M230.6 167.5h0M205.0 158.4h0M215.4 152.6h0M216.1 129.8h0M217.9 158.2h0M200.6 132.4h0M191.6 143.9h0M206.4 152.7h0M219.8 149.6h0M212.2 138.7h0M204.7 128.8h0M210.4 141.6h0M213.1 128.3h0M207.8 142.8h0M218.5 125.0h0M215.0 157.7h0M218.3 136.1h0M197.7 138.2h0M220.9 166.8h0M204.0 131.7h0M214.1 145.3h0M189.7 130.2h0M205.1 152.7h0M184.3 125.7h0M216.5 122.4h0M209.1 147.6h0M204.9 125.7h0M205.9 136.7h0M213.4 128.6h0M227.7 115.2h0M203.7 142.1h0M225.3 132.3h0M217.4 132.9h0M199.4 149.1h0M189.4 157.6h0M230.0 142.6h0M185.4 148.4h0M228.8 159.4h0M194.1 164.8h0M183.7 160.1h0M228.3 136.7h0M183.7 140.4h0M203.2 141.2h0M220.2 139.7h0M210.6 148.8h0M215.4 143.4h0M203.1 132.0h0M232.5 144.4h0M186.5 133.0h0M204.4 134.9h0M227.6 123.4h0M216.3 144.3h0M184.6 142.8h0M205.2 150.0h0M198.4 146.9h0M175.4 124.7h0M221.9 158.7h0M206.8 132.4h0M191.8 152.8h0M219.4 125.5h0M171.1 165.2h0M209.9 127.7h0M208.0 156.4h0M221.6 113.5h0M228.6 148.4h0M207.1 158.8h0M194.8 130.7h0M199.9 140.8h0M186.4 149.7h0M217.3 143.1h0M239.3 136.8h0M231.8 133.3h0M210.8 139.2h0M197.6 132.2h0M200.4 130.5h0M196.6 133.6h0M186.9 139.8h0M221.9 138.0h0M197.6 163.7h0M225.6 156.7h0M229.0 136.8h0M204.5 159.8h0M196.5 140.1h0M214.2 148.0h0M201.7 157.7h0M203.6 153.6h0M227.3 152.5h0M220.9 123.4h0M182.1 132.1h0M216.0 166.0h0M183.8 146.9h0M190.8 130.3h0M201.7 153.1h0M211.0 160.9h0M188.3 156.2h0M224.7 143.1h0M216.1 133.0h0M186.3 135.5h0M197.8 168.4h0M210.8 147.0h0M221.1 129.5h0M224.4 148.0h0M178.2 151.6h0M217.5 149.2h0M237.1 135.4h0M216.7 154.0h0M189.9 161.2h0M179.4 121.2h0M216.9 124.6h0M204.8 115.7h0M208.3 123.9h0M213.5 117.5h0M215.5 137.7h0M208.2 140.9h0M209.5 120.9h0M189.2 134.7h0M192.5 132.2h0M186.9 147.2h0M204.3 128.9h0M188.3 154.9h0M194.5 151.4h0M186.4 142.0h0M213.5 154.5h0M222.2 158.5h0M199.9 138.6h0M221.7 135.2h0M227.1 116.6h0M219.4 139.2h0M212.9 142.3h0M186.5 134.6h0M235.7 128.8h0M184.2 139.9h0M199.5 127.4h0M191.0 158.8h0M196.7 124.5h0M222.0 151.0h0M187.2 154.0h0M172.0 127.2h0M228.4 137.9h0M182.3 150.2h0M224.4 141.6h0M172.7 136.5h0M214.9 154.3h0M197.8 141.4h0M229.9 126.9h0M222.2 131.2h0M215.7 153.0h0M184.5 140.6h0M211.6 151.4h0M189.3 126.1h0M203.3 138.4h0M178.6 156.9h0M196.8 165.0h0M223.2 142.3h0M220.8 124.2h0M200.8 132.8h0M182.9 142.3h0M204.2 165.0h0M189.5 134.6h0M215.0 148.5h0M207.5 134.4h0M216.4 147.8h0M172.0 137.8h0M180.9 123.1h0M209.8 143.0h0M209.2 128.0h0M203.2 127.4h0M214.3 153.0h0M191.7 134.7h0M189.2 146.9h0M182.4 150.2h0M207.0 146.8h0M213.5 129.5h0M207.8 157.9h0M204.4 130.9h0M173.5 144.8h0M207.5 151.9h0M199.3 150.0h0M222.5 139.6h0M198.3 139.0h0M188.7 138.7h0M201.3 145.4h0M232.4 162.9h0M198.5 151.6h0M212.6 154.2h0M207.4 146.3h0M198.1 129.4h0M223.6 162.8h0M219.6 149.0h0M212.1 134.8h0M173.1 152.6h0M210.8 133.1h0M188.7 162.4h0M193.4 141.7h0M197.4 144.5h0M203.0 130.0h0M227.4 129.4h0M197.4 150.9h0M196.8 135.0h0M213.8 136.1h0M183.3 140.4h0M202.8 169.3h0M186.2 157.5h0M192.1 136.3h0M200.8 146.3h0M194.9 163.3h0M225.9 155.0h0M192.6 156.4h0M205.0 147.7h0M201.9 152.6h0" stroke="#1650cc" stroke-width="1.1" stroke-linecap="round" fill="none" opacity="0.85"/>
<path d="M220.4 156.6h0M204.5 154.9h0M224.4 131.8h0M224.7 127.0h0M213.5 150.1h0M224.8 146.3h0M201.2 133.4h0M192.0 152.2h0M204.2 134.4h0M213.4 133.8h0M201.8 137.5h0M226.9 160.6h0M205.1 124.1h0M210.3 143.9h0M211.2 149.8h0M203.2 154.1h0M217.0 145.5h0M202.1 137.2h0M215.3 129.8h0M205.1 134.0h0M190.3 150.2h0M206.7 143.4h0M217.5 125.1h0M206.2 146.5h0M217.0 130.0h0M215.6 145.6h0M223.3 156.7h0M213.6 168.8h0M207.0 137.9h0M202.9 131.7h0M206.7 120.5h0M206.0 148.1h0M218.9 138.8h0M223.7 135.2h0M205.4 120.5h0M197.9 133.5h0M224.5 149.2h0M194.1 149.3h0M212.6 140.3h0M207.3 139.4h0M200.6 122.2h0M205.9 158.1h0M223.8 139.7h0M198.2 140.5h0M217.5 147.1h0M200.2 147.2h0M204.6 149.0h0M202.2 125.8h0M207.7 151.9h0M194.0 141.7h0M217.3 138.6h0M199.4 166.8h0M216.7 155.0h0M195.9 162.1h0M187.6 136.9h0M215.6 158.5h0M196.1 135.2h0M209.3 120.5h0M214.5 149.5h0M201.8 149.3h0M216.1 146.6h0M213.1 160.6h0M201.4 144.9h0M200.9 155.0h0M202.3 148.5h0M208.6 143.8h0M227.0 142.0h0M223.5 152.6h0M222.3 141.1h0M217.8 151.8h0M199.9 146.1h0M205.5 142.6h0M222.1 134.6h0M187.5 122.8h0M201.8 135.5h0M207.2 149.6h0M227.4 146.6h0M212.4 134.5h0M213.7 158.7h0M222.5 120.4h0M217.3 161.3h0M216.6 125.7h0M203.4 149.8h0M211.8 133.6h0M196.7 154.2h0M191.6 159.6h0M207.2 146.5h0M191.6 136.1h0M215.0 126.0h0M230.9 126.8h0M192.9 143.5h0M212.6 151.5h0M202.7 140.6h0M204.3 136.4h0M177.3 154.1h0M209.9 144.8h0M199.7 145.9h0M206.8 142.1h0M219.7 123.1h0M209.9 130.7h0M203.3 160.3h0M194.5 141.8h0M200.2 153.9h0M195.7 123.6h0M212.9 138.9h0M203.3 155.5h0M196.8 138.7h0M208.7 147.8h0M201.0 154.9h0M232.8 138.3h0M228.5 118.7h0M223.2 139.0h0M208.6 139.1h0M199.7 128.3h0M202.5 157.9h0M220.1 139.0h0M200.9 134.9h0M193.2 163.8h0M214.6 144.4h0M201.3 131.2h0M222.2 152.0h0M196.0 154.4h0M194.2 150.4h0M195.9 138.2h0M212.7 148.0h0M218.7 133.4h0M225.2 158.5h0M206.9 148.4h0M198.0 141.2h0M191.8 144.0h0M209.3 158.5h0M217.9 152.4h0M202.8 140.4h0M203.1 145.6h0M184.8 151.9h0M188.9 137.1h0M207.3 137.1h0M226.2 141.9h0M225.1 156.5h0M201.3 147.6h0M222.0 139.2h0M208.0 136.6h0M207.7 138.9h0M208.0 154.5h0M223.0 144.5h0M209.3 152.9h0M203.7 130.8h0M219.8 132.2h0M217.7 131.9h0M228.1 131.0h0M216.8 160.3h0M195.9 160.1h0M197.5 122.7h0M215.3 151.1h0M204.7 113.9h0M206.4 139.5h0M202.6 139.7h0M186.4 136.5h0M227.7 160.8h0M202.8 134.8h0M211.6 155.2h0M215.3 129.5h0M208.9 144.6h0M223.6 156.8h0M213.0 157.0h0M202.4 160.7h0M202.1 147.6h0M217.6 132.5h0M198.9 122.7h0M208.9 142.4h0M203.2 148.7h0M182.6 142.7h0M208.0 139.9h0M216.1 163.2h0M201.9 132.2h0M200.0 144.1h0M213.8 133.1h0M218.5 131.2h0M216.5 147.9h0M212.3 167.9h0M204.0 141.1h0M212.5 152.9h0M191.6 146.2h0M198.5 150.3h0M222.8 143.6h0M205.8 145.1h0M173.0 151.9h0M213.5 144.9h0M202.4 134.6h0M204.9 157.0h0M205.8 158.5h0M177.4 137.7h0M210.2 142.8h0M187.9 135.3h0M221.4 128.1h0M195.6 130.4h0M200.6 150.4h0M213.8 119.6h0M223.8 136.2h0M200.2 162.2h0M206.1 128.7h0M199.6 134.6h0M195.4 139.2h0M217.1 147.0h0M195.6 144.3h0M207.4 151.8h0M203.2 148.3h0M231.3 144.1h0M194.5 146.8h0M197.8 138.7h0M209.2 146.9h0M203.7 152.8h0M204.8 128.0h0M217.1 138.8h0M221.0 135.5h0M213.6 146.6h0M175.9 125.8h0M194.1 159.2h0M185.2 153.5h0M219.6 148.7h0M214.8 137.3h0M206.9 145.6h0M211.8 151.1h0M204.6 134.9h0M200.5 147.7h0M187.9 128.6h0M202.3 136.6h0M203.1 140.1h0M215.9 120.2h0M203.5 148.5h0M212.6 156.8h0M219.2 130.9h0M214.3 139.1h0M197.7 160.7h0M199.7 133.2h0M202.3 133.2h0M218.6 147.4h0M223.2 147.7h0M199.9 155.1h0M199.4 137.7h0M205.1 143.5h0M220.8 136.0h0M211.1 142.7h0M192.5 130.4h0M204.5 147.7h0M210.7 148.5h0M207.6 137.8h0M211.9 131.4h0M191.5 139.2h0M190.5 137.1h0M198.4 136.6h0M206.5 133.7h0M202.1 123.2h0M208.7 132.8h0M197.7 145.8h0M178.8 138.8h0M208.1 144.2h0M189.7 145.7h0M208.7 131.7h0M215.6 142.4h0M207.2 137.8h0M213.3 144.1h0M220.2 148.2h0M199.9 140.4h0M217.6 138.8h0M211.4 149.0h0M204.9 116.0h0M208.5 145.5h0M208.6 134.2h0M221.0 141.4h0M199.8 134.7h0M211.2 130.3h0M195.4 166.2h0M222.2 155.2h0M222.8 149.9h0M187.4 156.9h0M221.4 148.7h0" stroke="#2c8cf5" stroke-width="1.1" stroke-linecap="round" fill="none" opacity="0.9"/>
<text class="f" x="171.80" y="119.60" font-size="5.0" font-weight="bold" fill="#fff">H<tspan font-size="60%" dy="0.9">2</tspan><tspan dy="-0.9">O</tspan><tspan font-size="60%" dy="0.9">2</tspan><tspan dy="-0.9"> (500 μmol/L)</tspan></text>
<rect x="229.40" y="167.50" width="8.80" height="2.00" fill="#f4f4f4"/>
<line x1="230.90" y1="168.60" x2="236.70" y2="168.60" stroke="#555" stroke-width="0.5"/>
<line x1="170.10" y1="169.60" x2="176.10" y2="169.60" stroke="#5a5a10" stroke-width="0.5"/>
<rect x="245.00" y="112.30" width="71.60" height="58.20" fill="#01031c"/>
<path d="M274.5 165.1h0M311.9 148.6h0M261.5 127.4h0M264.2 137.7h0M262.0 124.6h0M298.9 149.5h0M266.7 169.4h0M261.0 145.3h0M256.8 161.9h0M306.6 128.2h0M298.4 159.7h0M265.6 131.9h0M279.8 163.5h0M257.1 151.7h0M287.6 138.7h0M286.3 163.1h0M260.5 163.1h0M271.0 157.2h0M306.2 123.4h0M306.3 169.4h0M266.6 114.5h0M253.6 168.2h0M246.5 164.7h0M256.4 154.8h0M252.6 122.7h0M293.6 118.2h0M269.6 165.1h0M295.9 163.0h0M314.4 115.0h0M262.2 157.9h0M294.1 115.2h0M281.1 126.2h0M275.9 119.0h0M247.2 169.2h0M268.0 162.8h0M254.2 140.7h0M255.3 137.4h0M258.3 151.9h0M256.2 154.9h0M280.9 119.5h0M270.6 141.2h0M310.1 132.9h0M260.9 167.9h0M307.6 154.5h0M264.9 123.1h0M264.3 117.0h0M248.8 141.9h0M274.4 144.6h0M271.2 113.7h0M294.0 150.1h0M283.9 144.2h0M294.1 168.7h0M307.0 153.7h0M273.7 131.1h0M275.1 168.2h0M272.9 134.9h0M274.5 121.2h0M315.7 113.4h0M288.3 165.5h0M263.6 147.7h0M272.2 126.7h0M259.7 119.7h0M304.8 157.5h0M309.4 115.9h0M294.4 131.5h0M291.0 144.2h0M267.9 168.1h0M245.9 155.3h0M305.5 142.0h0M287.3 169.4h0M262.2 148.7h0M297.8 134.5h0M295.7 135.4h0M282.6 147.8h0M293.2 131.3h0M289.8 143.8h0M261.4 147.8h0M264.3 164.5h0M278.9 153.9h0M282.3 140.1h0M261.3 121.1h0M310.7 143.0h0M282.5 143.0h0M302.7 126.6h0M257.9 159.6h0M278.0 149.4h0M303.7 163.7h0M306.5 115.5h0M272.5 160.2h0M303.0 120.1h0M256.6 127.3h0M253.0 133.3h0M302.0 142.6h0M277.5 118.1h0M273.5 169.5h0M294.5 138.5h0M279.3 158.3h0M298.9 121.6h0M293.4 133.9h0M282.2 126.5h0M271.8 132.3h0M272.5 114.1h0M259.9 145.4h0M249.8 123.2h0M296.1 128.6h0M268.5 126.8h0M304.2 118.3h0M290.3 161.7h0M259.9 137.1h0M301.3 148.1h0M271.8 115.6h0M276.8 133.9h0M295.7 129.8h0M274.4 149.8h0M302.6 133.0h0M272.8 145.9h0M310.5 123.9h0M313.8 153.4h0M271.9 150.8h0M268.9 117.1h0M298.7 134.6h0M282.6 141.2h0M308.9 155.9h0M247.6 146.7h0M278.2 139.3h0M304.6 136.6h0M279.0 163.5h0M276.6 140.9h0M281.6 159.8h0M292.7 155.0h0M273.9 115.4h0M293.4 144.4h0M299.6 156.7h0M254.1 125.6h0M251.2 159.4h0M252.9 118.1h0M298.5 145.0h0M249.7 151.6h0M295.6 140.4h0M249.6 152.2h0M275.1 146.2h0M315.7 159.3h0M306.8 121.3h0M269.2 142.4h0M246.2 169.1h0M265.0 127.9h0M267.7 127.5h0M305.9 144.6h0M281.6 136.9h0M249.4 130.3h0M306.5 158.5h0M305.8 127.7h0M259.9 116.0h0M283.4 134.3h0M278.3 140.8h0M286.7 133.8h0M301.9 124.4h0M310.2 144.6h0M249.4 130.9h0M283.1 136.2h0M285.3 131.4h0M264.9 158.2h0M266.2 153.3h0M302.0 146.6h0M277.6 166.0h0M276.9 162.8h0M249.8 137.6h0M290.5 115.9h0M306.2 117.2h0M287.5 123.3h0M310.4 144.9h0M301.8 141.3h0M293.0 151.3h0M266.4 125.0h0M304.5 121.4h0M310.1 124.8h0M252.9 118.5h0M300.7 166.9h0M274.8 150.4h0M263.8 164.4h0M293.8 121.9h0M249.8 152.5h0M248.7 160.4h0M266.4 126.3h0M286.5 131.1h0M285.0 121.8h0M309.6 131.5h0M304.7 121.7h0M301.8 168.6h0M273.2 115.0h0M272.4 149.4h0M261.4 144.0h0M252.4 139.4h0M296.8 137.4h0M293.3 119.6h0M303.8 120.0h0M310.4 169.5h0M311.6 142.9h0M266.2 132.8h0M298.3 141.2h0M310.9 118.4h0M279.7 162.0h0M287.6 143.7h0M252.0 121.0h0M264.8 163.6h0M305.0 126.0h0M310.5 114.9h0M287.7 167.9h0M269.9 166.6h0M291.8 115.9h0M269.1 138.5h0M263.1 155.1h0M258.3 157.7h0M266.7 117.0h0M284.9 118.5h0M284.4 157.7h0M287.5 139.2h0M248.2 142.2h0M252.6 149.7h0M255.0 145.8h0M270.5 134.3h0M292.2 122.4h0M257.7 166.4h0M269.0 160.8h0M306.9 140.3h0M256.2 118.4h0M307.3 119.7h0M280.5 143.4h0M254.0 139.6h0M257.3 143.4h0M281.3 133.9h0M259.6 136.0h0M260.0 120.3h0M262.6 162.4h0M280.9 163.5h0M246.9 166.5h0M280.0 157.9h0M285.7 152.1h0M261.8 155.6h0M256.6 128.1h0M248.0 135.4h0M282.1 129.6h0M308.1 117.9h0M286.3 126.3h0M287.5 157.5h0M295.6 116.6h0M263.0 147.0h0M314.6 115.4h0M289.1 152.3h0M302.8 132.5h0M302.5 139.2h0M310.3 113.7h0M311.6 136.4h0M274.3 118.1h0M262.9 154.6h0M293.3 121.7h0M269.9 121.0h0M259.7 125.5h0M269.0 168.3h0M315.6 157.9h0M279.4 141.2h0M300.3 164.5h0M298.4 149.1h0M259.7 148.5h0M305.0 157.6h0M252.3 153.7h0M270.2 122.3h0M313.4 151.2h0M298.0 120.7h0M303.8 166.1h0M309.1 155.3h0M304.1 158.5h0M287.1 137.7h0M303.6 157.5h0M306.8 130.0h0M313.1 143.2h0M312.0 119.7h0M313.6 157.7h0M263.4 160.6h0M262.0 124.3h0M277.9 126.5h0M280.3 164.5h0M293.8 153.3h0M273.2 157.5h0M301.4 151.7h0M311.7 159.8h0M274.2 118.0h0M291.5 160.4h0M269.6 146.8h0M304.3 158.0h0M246.1 140.8h0M246.9 119.4h0M302.7 136.8h0M288.1 139.0h0M269.3 125.2h0M270.6 160.9h0M289.1 129.6h0M252.0 128.4h0M294.9 138.1h0M292.1 158.8h0M254.2 151.8h0M248.7 159.7h0M258.7 128.5h0M312.8 133.6h0M261.5 163.5h0M288.5 163.7h0M273.4 141.4h0M312.7 141.8h0M315.0 123.8h0M303.9 122.3h0M282.7 113.1h0M258.1 166.6h0M277.6 158.9h0M263.4 133.0h0M252.9 144.4h0M306.2 142.2h0M272.2 165.7h0M308.4 150.8h0M251.1 148.4h0M276.9 167.3h0M271.1 150.5h0M290.0 134.4h0M282.4 151.4h0M309.3 141.3h0M271.3 168.4h0M249.8 160.4h0M293.6 144.6h0M277.1 155.6h0M308.2 154.4h0M298.3 115.1h0M268.6 120.9h0M312.5 163.6h0M255.9 146.4h0M286.2 115.7h0M273.3 155.4h0M290.7 129.0h0M299.2 129.6h0M283.9 136.9h0M314.3 149.8h0M302.1 151.4h0M272.4 167.6h0M295.5 152.2h0M265.2 122.3h0M286.1 159.8h0M301.4 132.8h0M255.6 142.3h0M307.2 122.3h0M297.5 122.8h0M267.6 116.1h0M266.6 134.8h0M313.5 167.6h0M258.9 130.6h0M311.9 124.3h0M268.3 137.9h0M253.4 127.8h0M273.4 134.9h0M313.3 128.2h0M260.1 164.5h0M277.3 160.5h0M290.4 157.2h0M267.8 121.7h0M298.8 139.7h0M284.9 151.1h0M298.5 128.7h0M271.2 165.0h0M282.9 129.4h0M289.9 127.8h0M299.8 115.4h0M303.7 145.2h0M270.6 166.3h0M264.4 126.9h0M250.7 144.1h0M298.6 151.5h0M274.7 158.8h0M253.6 130.5h0M290.9 167.8h0M290.2 152.3h0M300.0 135.4h0M311.6 155.1h0M269.7 135.3h0M302.2 132.9h0M258.8 162.4h0M283.0 142.6h0M292.7 164.1h0M255.1 132.3h0M250.4 136.5h0M280.9 161.3h0M292.5 145.8h0M274.1 145.6h0M265.0 160.9h0M301.0 160.6h0M256.4 151.1h0M298.6 141.4h0M308.7 164.0h0M297.8 159.6h0M291.2 162.8h0M255.0 153.0h0M295.1 147.8h0M265.1 116.9h0M288.0 159.8h0" stroke="#12269e" stroke-width="0.95" stroke-linecap="round" fill="none" opacity="0.75"/>
<path d="M286.8 153.2h0M288.9 150.9h0M273.4 125.2h0M291.6 139.0h0M286.5 143.7h0M293.6 140.2h0M304.9 147.3h0M294.2 152.5h0M300.1 150.5h0M267.5 141.5h0M309.8 151.2h0M294.6 151.1h0M280.5 141.0h0M280.4 157.2h0M292.3 162.7h0M293.8 163.6h0M293.4 136.6h0M308.4 150.0h0M302.0 148.9h0M284.2 148.5h0M274.8 136.5h0M277.6 142.4h0M272.0 146.1h0M291.6 164.9h0M309.7 146.6h0M298.4 145.1h0M292.6 146.7h0M281.6 147.7h0M270.6 150.9h0M284.6 137.4h0M283.8 151.9h0M280.0 151.2h0M294.7 160.8h0M275.2 146.0h0M294.0 160.3h0M291.1 153.7h0M270.7 141.8h0M307.6 144.5h0M313.6 140.5h0M284.7 132.9h0M295.5 149.3h0M311.9 148.5h0M285.0 134.5h0M287.0 155.4h0M296.8 157.9h0M298.2 146.6h0M295.2 148.5h0M272.2 162.2h0M292.4 137.7h0M292.6 149.6h0M299.8 159.8h0M251.9 151.9h0M306.2 138.6h0M266.0 149.5h0M292.0 150.1h0M274.8 142.8h0M290.3 153.6h0M314.0 149.6h0M280.8 126.0h0M300.8 145.8h0M286.7 138.2h0M296.7 131.0h0M289.3 148.1h0M291.6 158.6h0M286.8 147.8h0M298.2 133.2h0M284.5 147.6h0M299.4 139.9h0M297.6 150.4h0M270.3 133.8h0M270.9 148.2h0M290.5 153.5h0M297.8 142.1h0M300.7 154.3h0M293.6 151.3h0M272.7 150.2h0M275.7 136.3h0M283.8 148.2h0M287.4 144.0h0M276.1 148.7h0M279.2 134.4h0M289.1 160.0h0M283.2 137.5h0M304.5 162.3h0M284.5 145.1h0M289.6 155.9h0M293.3 130.7h0M274.8 136.0h0M293.2 148.0h0M309.4 144.6h0M291.7 147.7h0M289.7 167.8h0M291.4 160.2h0M303.5 141.6h0M296.2 143.6h0M289.3 148.4h0M288.3 142.8h0M306.6 144.6h0M296.4 162.1h0M295.5 156.2h0M304.6 156.8h0M308.6 134.2h0M311.4 147.2h0M267.1 141.3h0M271.3 146.8h0M270.2 138.0h0M291.5 148.4h0M278.5 144.9h0M286.8 147.7h0M287.9 145.0h0M298.5 132.6h0M282.1 148.2h0M283.2 142.0h0M282.8 148.9h0M302.9 145.3h0M284.8 150.2h0M285.1 129.6h0M291.2 143.6h0M281.1 152.7h0M288.5 141.9h0M261.9 131.5h0M288.2 145.9h0M293.3 149.0h0M282.3 135.6h0M274.9 145.7h0M274.2 153.8h0M272.1 130.9h0M285.7 131.0h0M307.5 138.1h0M287.4 144.8h0M278.2 131.1h0M265.7 154.8h0M300.3 166.5h0M270.5 152.0h0M287.8 154.6h0M281.8 153.5h0M298.7 152.5h0M305.4 145.4h0M306.5 140.7h0M308.0 122.3h0M288.2 139.8h0M288.0 156.3h0M296.6 147.9h0M308.4 133.7h0M278.2 160.6h0M291.9 128.3h0M292.1 136.3h0M305.7 157.3h0M281.4 158.6h0" stroke="#1a44c0" stroke-width="0.95" stroke-linecap="round" fill="none" opacity="0.8"/>
<path d="M285.8 151.7h0M292.9 147.5h0M282.9 146.9h0M278.6 145.7h0M280.7 152.9h0M285.2 138.3h0M292.9 149.5h0M287.5 156.5h0M293.9 148.3h0M286.8 136.2h0M292.4 151.8h0M287.0 142.3h0M289.8 141.3h0M290.0 151.1h0M297.5 149.1h0M291.0 151.0h0M297.0 146.7h0M283.9 144.8h0M283.7 144.4h0M289.4 149.4h0M290.8 148.3h0M288.2 149.7h0M294.4 151.0h0M297.5 146.8h0M288.7 154.8h0M291.0 149.7h0M288.3 151.9h0M288.0 144.0h0" stroke="#2a7ae8" stroke-width="0.95" stroke-linecap="round" fill="none" opacity="0.85"/>
<ellipse cx="270.6" cy="134.8" rx="5.0" ry="5.0" fill="url(#hole)" opacity="1"/>
<text class="f" x="247.90" y="119.60" font-size="5.0" font-weight="bold" fill="#fff">H<tspan font-size="60%" dy="0.9">2</tspan><tspan dy="-0.9">O</tspan><tspan font-size="60%" dy="0.9">2</tspan><tspan dy="-0.9">+PSP2-1 (50 μg/mL)</tspan></text>
<rect x="305.70" y="167.50" width="8.80" height="2.00" fill="#f4f4f4"/>
<line x1="307.20" y1="168.60" x2="313.00" y2="168.60" stroke="#555" stroke-width="0.5"/>
<line x1="246.20" y1="169.60" x2="252.20" y2="169.60" stroke="#5a5a10" stroke-width="0.5"/>
<rect x="322.50" y="112.30" width="66.80" height="58.20" fill="#010114"/>
<path d="M370.8 118.5h0M384.1 132.5h0M377.6 114.8h0M377.3 125.9h0M379.0 158.5h0M367.0 128.8h0M323.9 123.9h0M382.3 122.0h0M366.3 146.3h0M366.4 123.3h0M332.7 118.6h0M387.4 134.8h0M365.8 145.3h0M337.9 116.8h0M324.3 161.4h0M331.8 167.6h0M347.0 154.0h0M332.3 157.7h0M339.7 133.8h0M357.4 119.4h0M339.5 158.2h0M341.9 134.7h0M373.2 125.8h0M335.9 125.5h0M348.3 133.8h0M365.1 139.8h0M380.0 116.0h0M366.6 160.4h0M338.6 114.8h0M351.9 119.7h0M353.3 153.4h0M329.4 119.8h0M354.6 122.9h0M338.3 138.0h0M331.0 116.9h0M346.8 139.7h0M384.4 144.5h0M328.0 125.7h0M371.8 145.0h0M380.0 167.6h0M379.2 119.3h0M384.8 142.8h0M338.9 122.8h0M379.7 125.1h0M328.7 128.1h0M383.6 139.2h0M371.0 117.3h0M352.8 131.1h0M336.7 150.6h0M346.9 119.9h0M387.5 140.4h0M335.0 113.7h0M365.9 142.2h0M324.9 139.7h0M371.6 143.5h0M338.6 141.3h0M362.7 150.0h0M332.8 158.6h0M385.0 155.0h0M379.2 133.9h0M382.2 123.4h0M338.1 146.9h0M382.1 117.7h0M337.4 115.1h0M351.9 121.1h0M335.8 155.5h0M361.3 166.3h0M349.5 151.5h0M324.1 166.8h0M338.5 140.1h0M356.7 166.8h0M355.4 169.2h0M363.8 125.3h0M377.7 124.5h0M388.5 138.9h0M338.1 167.5h0M344.3 136.1h0M345.7 150.9h0M324.8 134.3h0M333.9 160.0h0M323.3 147.5h0M340.1 138.8h0M359.9 153.4h0M332.3 126.7h0M331.2 167.5h0M333.0 120.9h0M357.3 146.0h0M381.1 116.3h0M338.6 122.6h0M361.5 138.7h0M350.0 163.4h0M366.4 161.8h0M385.7 128.3h0M384.7 136.2h0M326.7 164.9h0M330.1 114.1h0M342.2 129.5h0M386.3 162.4h0M350.7 143.1h0M378.6 158.8h0M365.9 142.1h0M330.9 126.9h0M366.2 146.3h0M375.5 164.0h0M386.0 124.0h0M328.3 163.9h0M360.5 123.4h0M368.4 127.6h0M338.7 133.8h0M357.5 151.4h0M328.1 155.1h0M364.0 139.8h0M367.1 158.4h0M323.9 140.0h0M367.5 153.2h0M365.5 123.3h0M385.8 157.6h0M338.5 137.5h0M385.8 124.8h0M350.0 167.5h0M382.0 126.3h0M371.2 133.5h0M366.5 156.5h0M331.6 125.7h0M337.3 128.2h0M325.6 120.8h0M349.8 136.9h0M328.4 146.1h0M384.7 145.8h0M346.5 153.0h0M351.8 123.0h0M354.7 114.1h0M367.4 122.2h0M347.4 167.6h0M373.3 160.4h0M365.2 149.0h0M369.3 167.8h0M336.1 156.5h0M342.9 127.6h0M376.9 147.1h0M378.7 162.6h0M361.7 124.3h0M324.3 143.4h0M370.6 128.5h0M327.9 113.4h0M334.6 152.5h0M323.6 126.1h0M340.6 153.3h0M387.7 114.2h0M330.7 166.0h0M386.5 121.5h0M345.2 142.7h0M344.2 136.7h0M354.5 127.7h0M326.9 117.9h0M333.9 118.3h0M364.0 152.5h0M340.4 157.9h0M370.8 132.4h0M355.4 123.8h0M383.9 144.8h0M326.6 121.8h0M368.5 134.9h0M370.0 126.1h0M375.3 158.5h0M329.4 146.3h0M335.8 153.2h0M375.7 157.9h0M338.4 118.4h0M366.6 145.1h0M332.3 124.0h0M361.3 119.2h0M364.6 126.7h0M340.2 137.1h0M358.1 154.1h0M325.3 154.1h0M337.7 129.6h0M365.0 152.2h0M363.4 164.1h0M336.6 130.7h0M366.5 127.9h0M333.6 125.9h0M373.6 159.9h0M370.0 167.4h0M375.1 130.6h0M343.9 153.9h0M326.9 147.6h0M329.1 115.9h0M356.8 121.7h0M384.0 162.8h0M353.4 124.3h0M331.1 141.8h0M357.3 133.6h0M370.0 143.1h0M373.9 119.1h0M327.9 135.0h0M354.8 127.4h0M366.9 125.7h0M344.0 140.1h0M369.7 156.7h0M347.5 138.4h0M383.8 166.0h0M363.6 119.0h0M353.0 149.1h0M341.5 115.2h0M387.3 164.6h0M331.7 139.5h0M363.7 130.1h0M327.8 155.6h0M373.6 137.9h0M328.9 135.4h0M329.4 167.6h0M326.6 129.4h0M373.4 120.7h0M330.2 117.1h0M334.0 143.2h0M377.6 122.7h0M334.6 156.4h0M351.1 132.2h0M331.3 126.8h0M386.7 119.7h0M340.2 155.0h0M381.4 164.3h0M354.1 167.2h0M362.7 129.4h0M353.6 153.6h0M371.2 120.4h0M335.9 167.3h0M330.3 159.1h0M345.4 127.1h0M339.9 139.7h0M387.9 121.5h0M379.0 131.3h0M334.6 155.3h0M345.6 123.7h0M350.6 159.6h0M379.6 145.6h0M324.0 156.3h0M362.8 164.0h0M385.4 131.6h0M378.6 159.5h0M340.6 133.8h0M347.7 133.1h0M348.0 119.3h0M338.1 164.6h0M350.1 149.1h0M381.2 155.9h0M339.2 165.1h0M375.7 169.2h0M370.8 155.8h0M376.3 127.4h0M366.1 134.6h0M378.0 120.7h0M358.5 132.1h0M376.8 132.6h0M378.3 161.1h0M380.6 121.0h0M384.5 155.2h0M367.4 150.0h0M326.4 162.4h0M359.0 138.9h0M345.4 157.4h0M374.3 162.3h0M337.3 132.4h0M339.6 118.8h0M344.6 114.6h0M375.2 126.0h0M327.9 116.9h0M371.6 124.3h0M353.4 135.8h0M375.6 167.1h0M343.5 148.9h0M381.6 139.7h0M382.0 154.6h0M343.6 162.6h0M360.7 119.1h0M361.6 160.0h0M357.1 140.5h0M350.5 162.9h0M366.7 124.9h0M346.9 133.7h0M385.8 152.5h0M331.4 164.9h0M325.6 146.5h0M351.5 153.7h0M351.3 118.3h0M357.4 159.5h0M374.7 133.3h0M337.8 155.3h0M375.6 125.5h0M380.9 169.3h0M351.6 134.6h0M369.6 165.7h0M336.5 130.2h0M344.8 154.5h0M335.5 144.1h0M355.9 150.9h0M332.6 167.2h0M388.5 144.9h0M375.1 123.5h0M382.6 144.3h0M372.8 162.3h0M346.9 165.4h0M336.8 114.4h0M356.1 164.0h0M382.0 167.2h0M356.6 165.9h0M359.8 121.2h0M364.4 158.6h0M350.9 147.2h0M340.2 128.7h0M350.7 142.1h0M353.8 118.3h0M323.7 132.4h0M370.0 155.5h0M338.8 127.6h0M357.0 123.0h0M362.6 164.3h0M336.5 146.2h0M370.3 155.5h0M369.7 153.3h0M341.1 160.6h0M383.6 116.1h0M384.9 138.2h0M328.9 117.0h0M375.3 151.5h0M332.6 139.1h0M364.9 169.6h0M345.2 156.5h0M339.3 124.4h0M333.8 136.3h0M363.6 130.3h0M333.9 125.5h0M328.8 124.0h0M343.9 141.7h0M335.3 140.3h0M352.0 168.2h0M355.0 166.6h0M354.0 124.3h0M361.9 121.3h0M334.3 117.2h0M369.0 167.8h0M349.6 133.1h0M351.0 133.0h0M368.3 135.3h0M333.2 162.0h0M360.6 113.5h0M378.7 154.3h0M346.4 148.8h0M383.3 135.8h0M351.5 130.0h0M359.4 150.6h0M371.2 166.8h0M332.8 133.8h0M378.8 157.9h0M361.8 151.4h0M345.5 166.6h0M359.1 135.9h0M335.2 119.6h0M381.8 158.4h0M325.0 131.4h0M354.6 141.2h0M347.0 163.8h0M346.1 143.2h0M383.9 149.3h0M354.4 131.9h0M348.5 147.6h0M374.5 127.9h0M347.5 135.0h0M347.0 164.8h0M358.4 128.7h0M345.0 159.6h0M333.7 152.2h0M324.7 124.0h0M327.2 158.7h0M332.9 126.0h0M327.1 128.0h0M371.1 153.9h0M382.7 166.7h0M359.2 165.3h0M329.1 165.5h0M351.6 124.0h0M372.1 161.7h0M348.5 118.4h0M380.2 155.8h0M362.2 168.4h0M325.8 116.3h0M331.4 114.3h0M369.5 148.8h0M330.6 122.3h0M335.1 147.6h0M367.1 168.0h0M346.8 168.5h0M351.6 135.2h0M339.8 126.3h0M386.8 169.4h0M369.3 123.0h0M335.0 121.7h0M346.2 154.8h0M327.1 143.1h0M367.7 115.0h0M352.0 157.9h0M360.8 138.7h0M380.8 147.1h0M345.3 135.5h0M384.8 161.7h0M382.9 144.8h0M332.6 123.0h0M348.3 152.2h0M323.6 158.5h0M374.5 142.2h0M323.7 158.3h0M350.3 151.0h0M360.5 154.3h0M350.0 167.4h0M385.6 165.7h0M363.4 131.0h0M347.9 128.3h0M382.2 157.9h0M374.7 159.6h0M387.9 152.0h0M344.1 156.0h0M340.4 147.7h0M333.6 161.6h0M355.2 128.7h0M383.5 117.8h0M383.9 155.9h0M333.0 156.2h0M360.7 164.4h0M361.5 137.3h0M384.2 118.0h0M374.0 118.9h0M341.3 119.5h0M380.1 138.1h0M370.7 127.6h0M370.9 149.8h0M329.7 141.1h0M370.4 125.2h0M366.0 128.8h0M347.5 165.2h0M384.8 169.6h0M351.1 145.5h0M376.0 156.0h0M353.0 162.0h0M349.5 166.9h0M354.1 119.8h0M372.1 121.3h0M367.6 116.1h0M387.7 143.7h0M371.6 120.5h0M364.8 134.4h0M339.5 159.2h0M325.5 140.1h0M329.0 161.3h0M381.5 115.0h0M353.6 139.6h0M370.2 154.4h0M345.7 165.9h0M335.4 120.8h0M376.4 119.9h0" stroke="#2218bc" stroke-width="0.95" stroke-linecap="round" fill="none" opacity="0.75"/>
<text class="f" x="325.40" y="119.60" font-size="5.0" font-weight="bold" fill="#fff">H<tspan font-size="60%" dy="0.9">2</tspan><tspan dy="-0.9">O</tspan><tspan font-size="60%" dy="0.9">2</tspan><tspan dy="-0.9">+PSP2-1 (100 μg/mL)</tspan></text>
<rect x="378.40" y="167.50" width="8.80" height="2.00" fill="#f4f4f4"/>
<line x1="379.90" y1="168.60" x2="385.70" y2="168.60" stroke="#555" stroke-width="0.5"/>
<line x1="323.70" y1="169.60" x2="329.70" y2="169.60" stroke="#5a5a10" stroke-width="0.5"/>
<rect x="394.10" y="112.30" width="71.80" height="58.20" fill="#010112"/>
<path d="M408.0 141.4h0M418.5 122.4h0M460.2 139.9h0M450.1 127.3h0M459.0 125.6h0M458.5 147.8h0M463.1 156.7h0M439.2 143.3h0M454.9 138.2h0M401.8 164.8h0M451.5 151.7h0M447.2 126.2h0M427.4 159.7h0M462.4 165.4h0M406.2 151.8h0M433.8 136.0h0M406.7 120.9h0M427.9 141.0h0M413.7 133.9h0M433.8 156.2h0M436.3 122.3h0M457.1 133.9h0M462.3 168.7h0M404.8 146.1h0M462.8 134.9h0M433.3 130.9h0M396.9 124.7h0M403.6 129.2h0M439.1 145.0h0M461.5 151.9h0M420.3 166.8h0M439.4 143.8h0M455.5 151.0h0M420.2 147.3h0M416.0 168.0h0M412.0 168.2h0M399.4 113.7h0M433.7 124.7h0M430.5 119.8h0M453.6 151.0h0M442.9 165.5h0M464.5 151.5h0M445.0 113.2h0M398.4 137.2h0M462.9 130.8h0M434.8 113.6h0M424.1 164.2h0M436.3 159.8h0M395.8 124.6h0M407.5 160.2h0M402.0 165.9h0M413.7 162.9h0M431.1 131.4h0M462.7 136.0h0M443.9 116.9h0M453.2 168.6h0M402.7 155.3h0M413.9 121.5h0M420.5 150.6h0M461.8 169.4h0M464.6 148.4h0M440.8 122.2h0M445.9 144.3h0M420.1 164.0h0M412.8 121.1h0M406.0 121.6h0M436.2 158.4h0M406.1 141.6h0M435.2 144.8h0M423.9 143.9h0M396.0 116.4h0M424.6 126.5h0M448.0 126.8h0M452.7 126.8h0M401.4 140.1h0M422.1 132.1h0M448.6 125.7h0M441.9 160.3h0M426.7 141.6h0M459.7 147.3h0M407.6 117.0h0M400.7 131.9h0M401.1 149.8h0M424.6 130.6h0M430.9 166.1h0M412.1 121.9h0M416.3 131.5h0M458.8 153.1h0M425.0 122.5h0M398.1 120.0h0M454.4 149.8h0M405.9 148.5h0M399.0 141.8h0M418.4 118.9h0M447.0 153.7h0M430.7 122.6h0M441.9 137.6h0M441.3 118.3h0M458.3 113.3h0M410.5 135.6h0M408.8 118.1h0M443.2 169.4h0M418.4 128.2h0M442.0 125.7h0M423.0 152.1h0M425.1 121.9h0M399.8 143.8h0M464.4 165.2h0M401.9 141.5h0M429.2 124.1h0M441.9 141.2h0M451.7 129.6h0M460.5 159.2h0M428.1 121.1h0M428.9 120.3h0M443.0 152.6h0M435.5 168.4h0M398.1 153.6h0M451.1 119.5h0M417.5 116.1h0M435.8 154.0h0M419.3 152.5h0M420.6 153.4h0M414.3 168.5h0M425.6 113.3h0M401.3 154.2h0M455.6 149.1h0M405.8 162.5h0M445.2 119.6h0M421.6 151.1h0M395.2 115.5h0M419.7 162.6h0M464.8 131.1h0M458.7 157.6h0M455.6 146.4h0M462.9 149.6h0M461.4 145.1h0M408.7 142.5h0M428.8 132.2h0M421.1 142.0h0M436.2 125.7h0M414.4 141.6h0M430.3 136.8h0M441.5 123.6h0M432.2 128.7h0M449.0 152.9h0M449.7 142.4h0M412.4 165.5h0M430.8 134.3h0M415.3 135.9h0M444.6 159.4h0M428.8 154.5h0M409.8 138.7h0M420.0 130.4h0M420.1 155.8h0M446.4 124.8h0M411.3 157.5h0M440.9 151.4h0M439.5 152.4h0M414.1 116.5h0M420.2 114.9h0M462.4 142.8h0M441.9 167.8h0M451.4 126.1h0M418.6 119.2h0M450.8 154.8h0M429.1 134.0h0M413.8 140.7h0M444.9 163.8h0M454.5 162.2h0M425.7 136.9h0M416.9 168.2h0M407.8 122.0h0M414.6 165.3h0M454.8 131.9h0M454.7 163.5h0M424.9 124.0h0M449.1 134.3h0M403.3 164.2h0M425.8 135.6h0M436.7 127.5h0M396.3 135.2h0M421.5 113.7h0M421.0 156.2h0M418.3 151.6h0M438.7 123.8h0M396.3 151.3h0M437.8 129.7h0M409.0 161.5h0M458.7 126.3h0M436.0 145.6h0M417.5 115.2h0M417.7 149.6h0M437.2 142.0h0M403.5 125.1h0M416.8 136.7h0M420.4 164.2h0M403.0 168.9h0M411.8 161.6h0M412.0 146.3h0M421.4 115.2h0M450.8 159.0h0M413.8 157.0h0M428.5 169.0h0M398.7 134.6h0M410.9 148.5h0M449.5 160.8h0M433.4 135.0h0M451.0 119.0h0M413.2 155.7h0M425.8 169.3h0M401.3 139.2h0M409.8 113.2h0M401.5 118.2h0M420.8 137.6h0M430.5 129.5h0M444.2 142.3h0M463.8 122.7h0M430.7 141.0h0M421.0 161.8h0M409.6 162.8h0M420.0 132.1h0M438.1 145.0h0M414.8 117.9h0M462.0 134.0h0M402.9 150.3h0M432.2 131.6h0M418.0 160.9h0M418.7 136.7h0M462.1 133.5h0M423.1 122.3h0M441.4 150.7h0M426.2 136.1h0M411.2 157.8h0M427.0 160.2h0M421.2 154.6h0M396.9 125.5h0M462.3 151.7h0M442.3 141.2h0M428.1 124.3h0M407.0 149.6h0M443.6 127.7h0M440.1 120.8h0M437.9 122.8h0M430.7 130.9h0M433.6 120.7h0M428.8 148.0h0M404.4 130.6h0M442.5 144.0h0M438.2 157.2h0M435.0 125.7h0M426.0 160.1h0M434.7 155.7h0M420.5 138.5h0M463.0 159.6h0M440.7 119.1h0M437.9 115.0h0M460.5 168.1h0M446.0 128.2h0M454.3 123.1h0M453.0 142.6h0M396.0 163.5h0M425.8 160.1h0M443.2 143.3h0M455.4 124.6h0M458.0 132.3h0M396.7 132.2h0M399.5 117.2h0M438.7 119.9h0M406.1 129.7h0M414.5 165.2h0M458.5 162.3h0M464.4 138.0h0M450.8 129.0h0M459.9 159.0h0M446.3 126.0h0M401.3 165.5h0M433.7 147.8h0M455.4 121.2h0M444.0 139.4h0M450.1 138.9h0M408.7 167.2h0M414.6 155.3h0M453.3 127.1h0M443.7 135.5h0M410.6 125.4h0M461.9 133.9h0M430.7 141.5h0M396.8 155.8h0M447.2 162.7h0M420.0 125.0h0M419.3 154.5h0M441.1 136.1h0M431.7 121.8h0M459.4 139.8h0M430.5 157.6h0M408.8 154.0h0M419.7 159.1h0M401.5 128.7h0M439.5 140.4h0M421.4 145.9h0M410.2 137.9h0M395.0 158.3h0M412.7 160.1h0M433.7 147.1h0M438.8 120.2h0M449.5 129.6h0M455.5 157.6h0M442.5 159.2h0M425.6 151.2h0M461.8 123.8h0M402.0 136.4h0M430.7 121.5h0M410.4 162.1h0M422.1 121.5h0M407.7 145.8h0M408.2 140.0h0M432.6 138.0h0M430.3 160.5h0M396.1 165.7h0M408.9 115.3h0M448.8 145.4h0M432.7 125.4h0M449.7 130.4h0M445.9 126.0h0M435.1 149.8h0M421.0 140.3h0M399.5 149.5h0M443.4 121.8h0M433.6 154.6h0M402.0 160.6h0M456.0 116.0h0M412.3 117.9h0M412.6 118.0h0M429.3 127.3h0M416.0 139.2h0M421.0 157.7h0M445.6 119.6h0M410.6 113.6h0M418.0 119.2h0M443.8 157.3h0M464.8 124.9h0M397.5 155.9h0M423.8 165.8h0M422.5 130.8h0M400.0 166.8h0M430.9 138.0h0M425.6 156.6h0M453.2 140.0h0M407.4 136.1h0M457.5 136.2h0M441.3 144.8h0M427.3 145.6h0M412.1 144.6h0M455.6 117.6h0M420.8 162.9h0M463.6 113.9h0M438.9 148.9h0M454.1 139.7h0M404.1 130.1h0" stroke="#1e16a8" stroke-width="0.95" stroke-linecap="round" fill="none" opacity="0.7"/>
<text class="f" x="397.00" y="119.60" font-size="5.0" font-weight="bold" fill="#fff">H<tspan font-size="60%" dy="0.9">2</tspan><tspan dy="-0.9">O</tspan><tspan font-size="60%" dy="0.9">2</tspan><tspan dy="-0.9">+PSP2-1 (150 μg/mL)</tspan></text>
<rect x="455.00" y="167.50" width="8.80" height="2.00" fill="#f4f4f4"/>
<line x1="456.50" y1="168.60" x2="462.30" y2="168.60" stroke="#555" stroke-width="0.5"/>
<line x1="395.30" y1="169.60" x2="401.30" y2="169.60" stroke="#5a5a10" stroke-width="0.5"/>
<line x1="18.10" y1="179.80" x2="18.10" y2="273.30" stroke="#8a8a8a" stroke-width="0.6"/>
<line x1="18.10" y1="273.30" x2="180.00" y2="273.30" stroke="#8a8a8a" stroke-width="0.6"/>
<text class="f" x="13.30" y="222.00" font-size="5.4" text-anchor="middle" transform="rotate(-90 13.30 222.00)">PI (Necrosis)</text>
<text class="f" x="103.20" y="279.80" font-size="5.25" text-anchor="middle">FITC (Apoptosis)</text>
<rect x="46.00" y="185.20" width="36.80" height="35.50" fill="#fff" stroke="#777" stroke-width="0.5"/>
<line x1="70.70" y1="185.20" x2="70.70" y2="220.70" stroke="#a8a8a8" stroke-width="0.5"/>
<line x1="46.00" y1="204.60" x2="82.80" y2="204.60" stroke="#a8a8a8" stroke-width="0.5"/>
<path d="M61.2 207.6h0M64.8 218.3h0M59.2 208.9h0M67.8 213.8h0M60.1 217.6h0M61.7 214.9h0M61.1 210.7h0M63.9 210.3h0M54.9 211.4h0M68.5 217.2h0M72.7 216.8h0M70.2 214.2h0M60.9 215.0h0M58.6 215.9h0M60.9 214.2h0M59.1 212.9h0M67.3 212.6h0M59.9 214.3h0M66.9 212.7h0M57.6 207.9h0M56.9 217.1h0M62.5 215.0h0M67.7 214.3h0M65.1 211.6h0M55.6 215.5h0M62.5 215.3h0M58.1 212.8h0M72.0 210.4h0M63.3 217.9h0M61.9 213.8h0M53.3 216.0h0M60.9 217.8h0M62.5 212.0h0M64.9 212.5h0M60.6 218.7h0M67.3 213.7h0M66.5 216.2h0M65.5 213.5h0M63.2 214.8h0M65.4 214.6h0M60.4 213.1h0M65.0 209.9h0M62.9 216.0h0M63.7 212.4h0M62.8 211.7h0M67.3 212.0h0M55.4 209.2h0M64.3 214.1h0M60.8 208.8h0M62.2 210.4h0M59.9 213.3h0M59.4 214.4h0M59.6 211.7h0M61.9 218.4h0M70.0 216.6h0M59.6 213.4h0M67.0 216.1h0M55.6 213.2h0M59.6 215.9h0M65.8 211.5h0M72.5 212.4h0M73.9 212.8h0M62.5 219.9h0M60.5 211.7h0M69.5 213.2h0M65.1 209.0h0M71.0 216.7h0M64.5 215.8h0M60.6 211.7h0M55.8 214.6h0M68.5 216.3h0M67.0 215.8h0M58.8 208.9h0M65.8 213.9h0M67.3 212.4h0M58.9 214.9h0M60.4 207.7h0M60.2 210.3h0M57.9 211.5h0M70.7 211.9h0M68.0 213.1h0M64.7 211.0h0M62.6 207.6h0M71.0 210.7h0M65.5 211.3h0M64.1 209.3h0M61.2 216.5h0M65.6 206.7h0M66.7 208.9h0M64.2 215.1h0M60.0 212.3h0M61.8 214.7h0M67.0 218.0h0M64.4 220.2h0M58.6 219.5h0M61.7 216.0h0M62.3 213.6h0M58.8 214.7h0M72.0 213.9h0M62.8 213.4h0M66.1 212.7h0M62.9 214.1h0M68.8 216.6h0M58.2 211.2h0M63.0 216.3h0M67.3 212.7h0M72.5 212.8h0M69.2 218.2h0M70.1 214.0h0M65.5 208.1h0M54.9 211.3h0M66.1 217.0h0M62.4 216.9h0M65.5 218.6h0M55.7 210.5h0M58.6 209.8h0M70.3 210.2h0M59.2 212.0h0M66.9 211.8h0M66.2 215.2h0M60.0 205.3h0M58.8 209.1h0M70.3 210.9h0M58.1 214.6h0M63.1 210.2h0M67.8 216.5h0M64.2 210.8h0M59.0 206.3h0M64.6 214.7h0M58.8 213.4h0M77.7 209.5h0M55.2 215.4h0M61.0 211.7h0M65.7 212.9h0M67.4 215.1h0M68.1 213.8h0M53.2 218.0h0M55.2 216.9h0M64.0 208.6h0M63.2 216.4h0M58.3 213.5h0M59.6 209.9h0M60.1 217.7h0M66.0 213.2h0M62.5 213.8h0M64.2 214.0h0M55.2 216.5h0M59.0 204.4h0M66.1 209.2h0" stroke="#a9b2ff" stroke-width="0.7" stroke-linecap="round" fill="none" opacity="0.5"/>
<path d="M69.0 203.4h0M68.4 205.2h0M68.5 203.6h0M66.7 205.6h0M66.7 206.2h0M74.1 199.9h0M69.4 200.6h0M73.2 200.7h0M73.0 194.9h0M69.2 202.7h0M71.4 198.8h0M70.7 206.1h0M70.3 198.3h0M70.9 204.1h0M68.4 205.4h0M68.4 201.5h0M68.9 205.9h0M72.1 198.9h0M71.9 199.0h0M70.2 202.2h0M66.4 207.0h0M65.8 201.8h0M66.5 204.8h0M66.3 204.7h0M65.3 203.0h0M72.0 200.4h0M69.9 202.0h0M69.4 202.6h0M65.1 205.0h0M70.7 203.7h0M71.7 203.7h0M65.6 206.9h0M69.0 205.9h0M73.6 197.4h0M71.3 200.6h0M66.7 205.9h0M68.2 207.5h0M72.2 202.2h0M68.2 199.8h0M71.8 200.7h0M63.1 210.3h0M73.9 201.4h0M67.5 206.8h0M70.2 201.9h0M69.2 204.3h0M71.7 201.8h0M67.1 203.1h0M74.3 200.1h0M67.9 204.7h0M70.0 199.1h0M73.2 203.6h0M69.6 201.6h0M75.1 196.9h0M69.7 202.0h0M68.3 200.9h0" stroke="#b0b8ff" stroke-width="0.7" stroke-linecap="round" fill="none" opacity="0.5"/>
<ellipse cx="63.4" cy="213.0" rx="6.8" ry="6.5" fill="url(#blob)"/>
<text class="f" x="64.40" y="183.30" font-size="3.4" text-anchor="middle" font-weight="bold">Control</text>
<line x1="49.68" y1="220.70" x2="49.68" y2="221.60" stroke="#777" stroke-width="0.4"/>
<text class="f" x="49.68" y="224.30" font-size="2.2" text-anchor="middle" fill="#666">10</text>
<line x1="57.04" y1="220.70" x2="57.04" y2="221.60" stroke="#777" stroke-width="0.4"/>
<text class="f" x="57.04" y="224.30" font-size="2.2" text-anchor="middle" fill="#666">10</text>
<line x1="64.40" y1="220.70" x2="64.40" y2="221.60" stroke="#777" stroke-width="0.4"/>
<text class="f" x="64.40" y="224.30" font-size="2.2" text-anchor="middle" fill="#666">10</text>
<line x1="71.76" y1="220.70" x2="71.76" y2="221.60" stroke="#777" stroke-width="0.4"/>
<text class="f" x="71.76" y="224.30" font-size="2.2" text-anchor="middle" fill="#666">10</text>
<line x1="79.12" y1="220.70" x2="79.12" y2="221.60" stroke="#777" stroke-width="0.4"/>
<text class="f" x="79.12" y="224.30" font-size="2.2" text-anchor="middle" fill="#666">10</text>
<line x1="45.10" y1="188.04" x2="46.00" y2="188.04" stroke="#777" stroke-width="0.4"/>
<text class="f" x="44.60" y="188.84" font-size="2.2" text-anchor="end" fill="#666">10</text>
<line x1="45.10" y1="196.20" x2="46.00" y2="196.20" stroke="#777" stroke-width="0.4"/>
<text class="f" x="44.60" y="197.00" font-size="2.2" text-anchor="end" fill="#666">10</text>
<line x1="45.10" y1="204.37" x2="46.00" y2="204.37" stroke="#777" stroke-width="0.4"/>
<text class="f" x="44.60" y="205.17" font-size="2.2" text-anchor="end" fill="#666">10</text>
<line x1="45.10" y1="212.53" x2="46.00" y2="212.53" stroke="#777" stroke-width="0.4"/>
<text class="f" x="44.60" y="213.34" font-size="2.2" text-anchor="end" fill="#666">10</text>
<text class="f" x="46.80" y="187.60" font-size="2.2" fill="#666">Q1</text>
<text class="f" x="82.00" y="187.60" font-size="2.2" text-anchor="end" fill="#666">Q2</text>
<text class="f" x="46.80" y="219.70" font-size="2.2" fill="#666">Q4</text>
<text class="f" x="82.00" y="219.70" font-size="2.2" text-anchor="end" fill="#666">Q3</text>
<rect x="104.00" y="185.20" width="36.50" height="35.50" fill="#fff" stroke="#777" stroke-width="0.5"/>
<line x1="128.60" y1="185.20" x2="128.60" y2="220.70" stroke="#a8a8a8" stroke-width="0.5"/>
<line x1="104.00" y1="204.50" x2="140.50" y2="204.50" stroke="#a8a8a8" stroke-width="0.5"/>
<path d="M116.0 208.4h0M125.9 213.2h0M127.0 206.5h0M119.1 218.5h0M118.2 207.1h0M118.4 212.3h0M121.7 218.0h0M127.8 218.9h0M124.4 211.8h0M119.6 208.4h0M127.6 217.8h0M122.2 210.4h0M124.9 215.2h0M122.5 209.5h0M122.9 211.6h0M125.1 215.6h0M123.8 212.0h0M128.7 216.2h0M127.5 216.4h0M124.8 214.9h0M117.0 207.2h0M117.6 215.6h0M125.9 214.1h0M122.2 219.8h0M120.0 207.4h0M114.8 212.4h0M125.0 216.0h0M120.8 216.3h0M121.6 211.0h0M120.1 216.1h0M126.1 209.6h0M117.3 213.9h0M131.4 209.5h0M116.1 214.9h0M124.1 211.4h0M121.7 215.2h0M113.9 213.4h0M124.5 216.7h0M127.1 213.3h0M115.3 218.1h0M125.3 211.3h0M126.5 217.1h0M121.2 205.4h0M119.7 210.9h0M118.0 213.2h0M116.9 214.8h0M130.3 209.4h0M126.5 211.7h0M124.3 213.1h0M127.6 211.1h0M125.1 210.8h0M122.8 213.5h0M126.7 208.1h0M115.7 218.3h0M123.5 219.4h0M117.2 214.2h0M124.5 219.6h0M121.6 212.0h0M125.0 213.1h0M118.4 216.1h0M113.2 210.0h0M127.9 211.8h0M120.3 214.8h0M126.9 215.3h0M117.5 211.5h0M126.5 213.1h0M119.0 216.5h0M117.0 211.1h0M118.7 214.7h0M119.7 217.3h0M109.7 216.8h0M118.9 212.6h0M124.4 214.2h0M117.2 218.7h0M124.4 211.8h0M122.7 209.7h0M116.3 212.5h0M123.4 213.9h0M118.3 208.7h0M114.3 219.0h0M123.5 210.7h0M127.1 215.4h0M119.9 211.4h0M126.9 214.6h0M129.1 214.8h0M119.2 211.4h0M118.6 214.4h0M122.9 215.6h0M123.8 209.9h0M120.9 210.3h0M124.0 209.0h0M119.2 210.5h0M119.0 212.6h0M128.6 212.6h0M115.4 212.5h0M125.2 215.4h0M126.8 213.8h0M127.2 208.9h0M121.0 210.5h0M122.6 219.1h0M119.6 219.0h0M117.2 218.4h0M114.2 210.6h0M126.3 213.2h0M122.4 213.5h0M122.6 212.9h0M117.4 212.5h0M122.3 210.4h0M123.9 219.6h0M114.5 211.6h0M120.5 213.6h0M122.2 211.0h0M121.6 213.5h0M121.4 218.8h0M122.4 208.4h0M114.8 215.5h0M120.3 211.4h0M115.7 212.4h0M121.4 211.1h0M120.2 216.6h0M125.3 215.4h0M121.0 208.8h0M125.3 218.7h0M127.5 217.5h0M123.0 214.8h0M121.7 217.8h0M125.3 212.4h0M121.8 207.9h0M118.5 212.5h0M132.7 210.7h0M125.9 213.8h0M120.5 215.7h0M112.9 216.8h0M130.4 214.5h0M121.5 214.1h0M124.8 211.8h0M122.3 215.2h0M120.2 214.8h0M123.3 216.0h0M117.4 211.7h0M119.9 217.6h0M122.9 207.8h0M123.3 209.0h0M117.7 214.0h0M128.2 219.1h0M120.2 212.5h0" stroke="#a9b2ff" stroke-width="0.7" stroke-linecap="round" fill="none" opacity="0.5"/>
<path d="M130.5 200.5h0M131.1 202.4h0M129.0 206.8h0M127.7 204.1h0M124.4 209.8h0M129.9 205.9h0M123.5 213.5h0M130.3 205.7h0M129.4 204.2h0M128.8 205.3h0M126.1 207.4h0M127.3 205.3h0M123.0 208.4h0M129.1 205.2h0M126.6 204.8h0M128.9 203.6h0M124.8 212.4h0M126.7 211.5h0M128.2 204.3h0M122.0 211.2h0M131.9 203.5h0M126.3 203.9h0M126.4 206.7h0M128.3 204.8h0M126.6 203.8h0M127.6 208.8h0M125.4 210.3h0M132.9 200.9h0M125.9 210.4h0M124.0 210.8h0M127.9 208.0h0M130.1 203.3h0M132.2 202.4h0M125.5 206.4h0M132.2 199.6h0M128.2 204.9h0M124.9 205.8h0M127.1 206.3h0M129.0 203.2h0M123.2 208.9h0M127.7 206.3h0M128.6 203.9h0M128.8 204.8h0M130.9 201.8h0M128.4 206.1h0M129.1 202.2h0M126.3 206.9h0M124.4 212.3h0M129.7 203.4h0M135.7 198.8h0M133.2 202.3h0M128.0 202.6h0M131.1 202.6h0M125.1 209.0h0M130.0 205.0h0" stroke="#b0b8ff" stroke-width="0.7" stroke-linecap="round" fill="none" opacity="0.5"/>
<path d="M133.0 198.0h0M135.3 197.2h0M132.3 200.1h0M126.7 200.5h0M124.3 198.9h0M127.4 199.6h0M135.3 198.3h0M136.1 198.4h0M131.7 199.8h0M131.5 199.3h0M136.4 197.3h0M136.7 196.4h0M131.0 196.4h0M130.7 201.7h0M134.2 200.6h0M126.2 198.4h0M134.5 199.8h0M135.3 195.7h0M134.4 198.4h0M133.0 199.5h0M130.8 196.5h0M127.7 197.4h0M127.1 199.6h0M137.5 196.9h0M129.0 197.7h0M125.5 200.2h0M130.4 198.9h0M128.7 200.3h0M127.7 200.6h0M130.0 200.6h0M128.9 200.2h0M134.2 198.5h0M139.0 198.0h0M129.0 200.6h0M128.9 198.7h0M132.5 199.2h0M138.8 195.0h0M131.7 200.8h0M131.8 199.5h0M138.2 195.9h0M132.8 200.1h0M129.6 196.6h0M128.4 199.9h0M133.7 201.6h0M137.3 195.6h0M136.8 199.6h0M138.9 197.5h0M130.2 199.5h0M138.8 198.8h0M139.5 198.9h0M129.8 197.8h0M139.5 195.3h0M130.9 198.7h0M128.6 198.7h0M133.1 202.6h0M132.0 198.1h0M133.2 200.3h0M129.0 198.9h0M125.6 201.2h0M135.6 200.7h0M128.2 203.1h0M135.8 197.9h0M130.7 198.7h0M127.7 201.0h0M129.8 198.2h0M134.5 198.7h0M130.0 199.0h0M130.8 201.3h0M136.2 197.1h0M132.6 201.0h0M131.7 201.9h0M134.4 199.6h0M124.3 201.7h0M133.9 199.6h0M134.5 199.4h0M130.6 200.7h0M132.4 197.2h0M128.3 199.9h0M133.2 195.3h0M124.4 202.0h0M133.1 203.3h0M126.2 199.6h0M130.1 200.2h0M138.5 200.4h0M128.7 201.5h0M127.6 200.2h0M133.3 199.7h0M129.5 201.5h0M132.1 198.9h0M131.0 197.4h0M135.4 198.9h0M134.7 201.5h0M128.8 199.1h0M132.7 200.2h0M131.9 200.5h0M133.8 195.9h0M129.1 196.2h0M131.1 198.5h0M134.8 198.7h0M132.5 200.9h0M134.5 196.6h0M129.7 199.9h0M139.2 197.4h0M131.8 199.4h0M135.5 198.2h0M133.5 198.0h0M130.0 198.1h0M134.9 197.6h0M134.7 199.1h0M135.6 194.1h0" stroke="#a4aeff" stroke-width="0.7" stroke-linecap="round" fill="none" opacity="0.55"/>
<ellipse cx="133.2" cy="198.7" rx="5.6" ry="2.7" fill="url(#blob2)" opacity="1.0" transform="rotate(-10 133.2 198.7)"/>
<ellipse cx="122.3" cy="213.2" rx="6.8" ry="6.5" fill="url(#blob)"/>
<text class="f" x="122.25" y="183.30" font-size="3.4" text-anchor="middle" font-weight="bold">H<tspan font-size="60%" dy="0.9">2</tspan><tspan dy="-0.9">O</tspan><tspan font-size="60%" dy="0.9">2</tspan><tspan dy="-0.9"> (500 μmol/L)</tspan></text>
<line x1="107.65" y1="220.70" x2="107.65" y2="221.60" stroke="#777" stroke-width="0.4"/>
<text class="f" x="107.65" y="224.30" font-size="2.2" text-anchor="middle" fill="#666">10</text>
<line x1="114.95" y1="220.70" x2="114.95" y2="221.60" stroke="#777" stroke-width="0.4"/>
<text class="f" x="114.95" y="224.30" font-size="2.2" text-anchor="middle" fill="#666">10</text>
<line x1="122.25" y1="220.70" x2="122.25" y2="221.60" stroke="#777" stroke-width="0.4"/>
<text class="f" x="122.25" y="224.30" font-size="2.2" text-anchor="middle" fill="#666">10</text>
<line x1="129.55" y1="220.70" x2="129.55" y2="221.60" stroke="#777" stroke-width="0.4"/>
<text class="f" x="129.55" y="224.30" font-size="2.2" text-anchor="middle" fill="#666">10</text>
<line x1="136.85" y1="220.70" x2="136.85" y2="221.60" stroke="#777" stroke-width="0.4"/>
<text class="f" x="136.85" y="224.30" font-size="2.2" text-anchor="middle" fill="#666">10</text>
<line x1="103.10" y1="188.04" x2="104.00" y2="188.04" stroke="#777" stroke-width="0.4"/>
<text class="f" x="102.60" y="188.84" font-size="2.2" text-anchor="end" fill="#666">10</text>
<line x1="103.10" y1="196.20" x2="104.00" y2="196.20" stroke="#777" stroke-width="0.4"/>
<text class="f" x="102.60" y="197.00" font-size="2.2" text-anchor="end" fill="#666">10</text>
<line x1="103.10" y1="204.37" x2="104.00" y2="204.37" stroke="#777" stroke-width="0.4"/>
<text class="f" x="102.60" y="205.17" font-size="2.2" text-anchor="end" fill="#666">10</text>
<line x1="103.10" y1="212.53" x2="104.00" y2="212.53" stroke="#777" stroke-width="0.4"/>
<text class="f" x="102.60" y="213.34" font-size="2.2" text-anchor="end" fill="#666">10</text>
<text class="f" x="104.80" y="187.60" font-size="2.2" fill="#666">Q1</text>
<text class="f" x="139.70" y="187.60" font-size="2.2" text-anchor="end" fill="#666">Q2</text>
<text class="f" x="104.80" y="219.70" font-size="2.2" fill="#666">Q4</text>
<text class="f" x="139.70" y="219.70" font-size="2.2" text-anchor="end" fill="#666">Q3</text>
<rect x="25.40" y="233.00" width="36.60" height="34.00" fill="#fff" stroke="#777" stroke-width="0.5"/>
<line x1="50.90" y1="233.00" x2="50.90" y2="267.00" stroke="#a8a8a8" stroke-width="0.5"/>
<line x1="25.40" y1="250.60" x2="62.00" y2="250.60" stroke="#a8a8a8" stroke-width="0.5"/>
<path d="M39.0 255.7h0M42.6 262.8h0M54.7 265.4h0M49.4 261.3h0M41.6 261.9h0M33.5 263.3h0M43.3 262.2h0M38.7 256.2h0M40.4 259.8h0M44.9 258.8h0M44.9 262.4h0M38.1 259.6h0M36.3 258.1h0M47.4 257.5h0M51.7 261.8h0M47.3 260.4h0M47.2 263.8h0M43.8 258.1h0M42.5 258.4h0M40.1 254.1h0M41.1 261.1h0M41.1 257.3h0M45.1 261.6h0M41.3 261.1h0M38.9 263.0h0M38.9 258.8h0M43.9 258.5h0M50.1 253.9h0M43.8 255.6h0M44.7 255.4h0M45.9 261.9h0M51.0 264.2h0M41.2 263.3h0M41.2 259.6h0M41.1 253.8h0M46.0 252.9h0M42.2 261.8h0M43.8 254.5h0M40.4 262.4h0M48.2 265.6h0M35.1 261.6h0M41.1 262.7h0M35.7 259.5h0M46.5 257.7h0M41.7 256.6h0M48.3 255.3h0M39.2 258.8h0M44.5 257.1h0M45.9 261.2h0M44.6 259.8h0M45.4 255.9h0M37.9 258.5h0M38.3 262.5h0M52.0 264.3h0M45.3 261.2h0M40.2 255.4h0M45.8 254.8h0M44.7 259.5h0M46.7 260.2h0M43.8 258.0h0M35.6 258.8h0M46.4 263.7h0M49.5 256.5h0M39.1 262.5h0M44.7 254.7h0M40.8 265.5h0M35.1 260.5h0M37.1 265.6h0M41.3 256.4h0M35.6 257.5h0M31.8 258.3h0M53.1 260.3h0M42.1 255.9h0M44.8 258.3h0M39.5 264.9h0M45.3 256.9h0M49.9 259.8h0M45.6 260.5h0M48.6 262.2h0M41.7 262.5h0M41.5 260.5h0M50.7 256.3h0M38.6 258.6h0M41.1 264.6h0M50.4 258.4h0M44.1 258.7h0M46.3 262.3h0M46.7 262.7h0M52.0 259.4h0M46.4 259.3h0M43.5 260.8h0M43.1 261.2h0M39.5 259.5h0M40.6 255.9h0M40.1 258.3h0M42.6 254.5h0M42.1 256.0h0M39.6 260.7h0M48.3 261.0h0M41.1 258.5h0M49.3 254.3h0M48.4 254.7h0M40.4 260.2h0M42.3 265.8h0M45.5 259.8h0M47.6 260.1h0M39.7 263.9h0M50.0 264.5h0M41.4 262.7h0M36.0 256.4h0M48.6 261.7h0M41.9 249.7h0M45.3 259.3h0M32.0 258.0h0M43.3 260.8h0M46.7 259.1h0M39.3 258.7h0M33.8 256.1h0M52.2 257.6h0M48.0 260.4h0M46.6 259.1h0M39.2 263.5h0M43.9 265.6h0M42.1 258.7h0M44.9 259.3h0M41.9 256.9h0M44.4 261.1h0M51.5 259.9h0M35.4 261.6h0M53.6 258.4h0M39.7 259.4h0M30.4 258.8h0M42.5 254.7h0M45.9 256.9h0M35.0 257.5h0M48.9 260.7h0M41.0 259.1h0M47.7 258.2h0M45.2 263.4h0M39.2 257.9h0" stroke="#a9b2ff" stroke-width="0.7" stroke-linecap="round" fill="none" opacity="0.5"/>
<path d="M49.9 250.9h0M48.2 251.9h0M50.7 253.7h0M50.2 247.3h0M49.2 252.0h0M47.7 250.7h0M48.9 252.4h0M47.9 254.0h0M42.4 256.8h0M49.6 252.1h0M48.2 252.0h0M50.5 252.5h0M50.8 249.7h0M49.1 254.1h0M51.0 251.4h0M47.6 252.0h0M48.8 251.0h0M52.3 249.9h0M45.1 258.0h0M52.8 249.6h0M47.1 252.4h0M52.0 250.5h0M48.0 250.9h0M46.1 256.0h0M46.6 253.5h0M51.0 251.8h0M44.0 256.6h0M51.7 248.7h0M48.9 253.4h0M45.4 253.8h0M50.6 253.3h0M51.1 249.5h0M50.7 249.1h0M44.8 253.5h0M50.5 252.1h0M49.7 251.0h0M49.3 253.9h0M47.4 250.9h0M51.2 248.0h0M49.8 251.0h0M51.4 249.6h0M51.8 249.1h0M47.5 252.7h0M49.5 249.7h0M50.7 249.5h0M46.2 253.6h0M50.5 253.9h0M50.6 250.1h0M49.0 255.9h0M48.4 252.7h0M49.5 254.2h0M48.9 251.2h0M48.4 250.7h0M46.6 254.5h0M44.2 260.1h0" stroke="#b0b8ff" stroke-width="0.7" stroke-linecap="round" fill="none" opacity="0.5"/>
<path d="M52.8 241.3h0M54.6 243.9h0M56.4 241.1h0M51.2 243.1h0M53.4 247.4h0M53.0 243.8h0M52.0 245.3h0M59.7 240.9h0M58.1 243.0h0M59.2 244.5h0M56.0 240.6h0M54.2 242.8h0M55.6 243.4h0M57.6 240.4h0M50.8 244.1h0M55.0 242.8h0M53.7 243.8h0M58.0 242.8h0M54.3 240.7h0M42.8 243.3h0M54.6 239.8h0M55.4 243.3h0M53.6 242.6h0M52.3 245.3h0M55.2 243.4h0M51.9 244.4h0M58.6 242.8h0M52.0 242.1h0M54.0 242.2h0M48.2 246.1h0M50.7 241.0h0M51.4 247.1h0M53.0 241.7h0M49.5 245.6h0M55.5 243.7h0M53.1 244.6h0M60.2 243.4h0M52.7 241.6h0M56.0 245.8h0M56.1 241.3h0M54.9 245.6h0M51.4 244.9h0M59.2 245.4h0M46.8 242.1h0M55.5 244.5h0M52.4 243.9h0M52.5 245.9h0M44.9 245.7h0M48.4 243.6h0M47.3 243.4h0M53.7 243.8h0M61.0 242.1h0M55.3 244.0h0M55.3 245.8h0M54.4 243.8h0M53.3 243.8h0M53.8 245.3h0M53.9 243.8h0M53.8 244.9h0M52.1 245.5h0M51.7 245.2h0M53.1 241.9h0M56.8 243.2h0M57.3 242.0h0M56.4 246.2h0M55.3 242.9h0M48.5 244.6h0M56.7 244.2h0M49.0 242.9h0M49.5 242.8h0M52.7 244.3h0M59.3 240.1h0M60.3 243.8h0M55.8 244.7h0M56.9 246.3h0M56.6 240.4h0M47.1 247.5h0M53.8 245.8h0M52.2 242.9h0M52.5 244.4h0M54.4 242.6h0M56.2 244.3h0M49.7 242.6h0M45.7 244.6h0M53.7 242.6h0M51.3 243.9h0M54.1 244.6h0M57.3 243.8h0M58.1 241.4h0M56.4 243.9h0M49.3 243.4h0M55.6 243.5h0M48.5 243.7h0M60.3 243.9h0M54.5 245.8h0M50.0 244.1h0M57.6 242.5h0M49.4 245.4h0M59.6 238.5h0M54.1 241.6h0" stroke="#a4aeff" stroke-width="0.7" stroke-linecap="round" fill="none" opacity="0.55"/>
<ellipse cx="54.6" cy="243.5" rx="5.6" ry="2.7" fill="url(#blob2)" opacity="0.95" transform="rotate(-10 54.6 243.5)"/>
<ellipse cx="43.8" cy="259.7" rx="6.8" ry="6.5" fill="url(#blob)"/>
<text class="f" x="43.70" y="231.10" font-size="3.4" text-anchor="middle" font-weight="bold">H<tspan font-size="60%" dy="0.9">2</tspan><tspan dy="-0.9">O</tspan><tspan font-size="60%" dy="0.9">2</tspan><tspan dy="-0.9"> +PSP2-1 (50 μg/mL)</tspan></text>
<line x1="29.06" y1="267.00" x2="29.06" y2="267.90" stroke="#777" stroke-width="0.4"/>
<text class="f" x="29.06" y="270.60" font-size="2.2" text-anchor="middle" fill="#666">10</text>
<line x1="36.38" y1="267.00" x2="36.38" y2="267.90" stroke="#777" stroke-width="0.4"/>
<text class="f" x="36.38" y="270.60" font-size="2.2" text-anchor="middle" fill="#666">10</text>
<line x1="43.70" y1="267.00" x2="43.70" y2="267.90" stroke="#777" stroke-width="0.4"/>
<text class="f" x="43.70" y="270.60" font-size="2.2" text-anchor="middle" fill="#666">10</text>
<line x1="51.02" y1="267.00" x2="51.02" y2="267.90" stroke="#777" stroke-width="0.4"/>
<text class="f" x="51.02" y="270.60" font-size="2.2" text-anchor="middle" fill="#666">10</text>
<line x1="58.34" y1="267.00" x2="58.34" y2="267.90" stroke="#777" stroke-width="0.4"/>
<text class="f" x="58.34" y="270.60" font-size="2.2" text-anchor="middle" fill="#666">10</text>
<line x1="24.50" y1="235.72" x2="25.40" y2="235.72" stroke="#777" stroke-width="0.4"/>
<text class="f" x="24.00" y="236.52" font-size="2.2" text-anchor="end" fill="#666">10</text>
<line x1="24.50" y1="243.54" x2="25.40" y2="243.54" stroke="#777" stroke-width="0.4"/>
<text class="f" x="24.00" y="244.34" font-size="2.2" text-anchor="end" fill="#666">10</text>
<line x1="24.50" y1="251.36" x2="25.40" y2="251.36" stroke="#777" stroke-width="0.4"/>
<text class="f" x="24.00" y="252.16" font-size="2.2" text-anchor="end" fill="#666">10</text>
<line x1="24.50" y1="259.18" x2="25.40" y2="259.18" stroke="#777" stroke-width="0.4"/>
<text class="f" x="24.00" y="259.98" font-size="2.2" text-anchor="end" fill="#666">10</text>
<text class="f" x="26.20" y="235.40" font-size="2.2" fill="#666">Q1</text>
<text class="f" x="61.20" y="235.40" font-size="2.2" text-anchor="end" fill="#666">Q2</text>
<text class="f" x="26.20" y="266.00" font-size="2.2" fill="#666">Q4</text>
<text class="f" x="61.20" y="266.00" font-size="2.2" text-anchor="end" fill="#666">Q3</text>
<rect x="79.80" y="233.00" width="36.50" height="34.00" fill="#fff" stroke="#777" stroke-width="0.5"/>
<line x1="104.50" y1="233.00" x2="104.50" y2="267.00" stroke="#a8a8a8" stroke-width="0.5"/>
<line x1="79.80" y1="250.60" x2="116.30" y2="250.60" stroke="#a8a8a8" stroke-width="0.5"/>
<path d="M96.6 255.3h0M109.8 257.9h0M98.2 257.8h0M93.5 258.7h0M99.3 265.9h0M93.2 260.6h0M96.0 254.7h0M114.9 259.4h0M99.1 257.6h0M95.4 256.6h0M102.7 258.9h0M97.3 260.9h0M92.4 261.1h0M97.2 261.9h0M96.2 260.4h0M100.4 263.7h0M94.9 263.8h0M93.5 259.6h0M98.6 260.8h0M86.6 256.8h0M97.2 263.6h0M94.8 265.7h0M89.8 260.6h0M100.5 260.4h0M99.2 263.6h0M94.3 262.4h0M102.8 259.5h0M87.5 256.1h0M94.1 256.5h0M100.0 257.4h0M109.3 262.3h0M92.1 259.3h0M104.9 262.7h0M93.4 264.0h0M95.5 262.4h0M100.6 258.7h0M97.3 264.4h0M100.3 260.1h0M102.2 262.0h0M99.5 254.7h0M98.6 258.6h0M101.3 258.1h0M100.0 256.6h0M102.1 257.7h0M97.9 262.4h0M96.5 260.3h0M89.8 257.1h0M101.1 263.6h0M95.8 260.6h0M97.1 256.1h0M90.9 255.8h0M103.9 258.9h0M106.9 262.6h0M99.7 262.6h0M101.6 263.6h0M93.6 258.3h0M95.5 260.7h0M96.9 255.9h0M107.6 257.3h0M99.7 260.2h0M94.2 262.8h0M97.7 266.2h0M100.1 259.2h0M86.0 259.9h0M101.9 257.8h0M102.0 262.7h0M90.0 259.6h0M99.5 263.0h0M98.7 260.2h0M96.4 259.3h0M98.0 256.5h0M100.9 259.1h0M100.4 258.5h0M99.9 260.8h0M102.1 261.9h0M102.2 259.7h0M97.7 259.4h0M92.3 259.9h0M102.9 263.0h0M94.1 261.4h0M101.4 255.5h0M99.6 261.5h0M101.4 261.2h0M90.1 253.1h0M107.0 258.9h0M103.8 264.8h0M98.4 256.2h0M104.2 260.2h0M100.4 262.0h0M102.3 263.9h0M91.5 255.3h0M98.6 260.3h0M101.5 259.8h0M104.2 264.4h0M102.7 257.5h0M97.6 260.1h0M93.0 257.2h0M98.7 256.0h0M100.5 262.0h0M96.9 259.1h0M100.7 262.0h0M99.7 256.0h0M95.0 259.0h0M89.7 257.5h0M94.7 263.1h0M86.0 255.3h0M96.1 258.6h0M94.5 258.7h0M90.8 261.2h0M103.4 260.8h0M95.6 264.8h0M100.2 256.7h0M95.4 258.1h0M97.8 264.6h0M94.8 259.8h0M98.5 256.1h0M95.8 262.5h0M103.1 253.7h0M101.2 259.3h0M103.9 262.5h0M107.0 261.4h0M96.2 257.4h0M91.5 262.3h0M100.3 263.2h0M99.6 255.0h0M96.2 259.4h0M98.7 263.0h0M104.4 261.3h0M88.6 256.7h0M88.3 257.6h0M92.6 261.1h0M97.0 264.2h0M102.9 258.7h0M102.3 260.3h0M100.1 265.1h0M92.8 260.1h0M105.0 257.6h0M99.0 260.8h0M96.1 255.7h0M94.9 256.8h0M102.9 261.2h0M101.2 256.1h0" stroke="#a9b2ff" stroke-width="0.7" stroke-linecap="round" fill="none" opacity="0.5"/>
<path d="M105.7 250.9h0M106.0 248.8h0M107.6 251.1h0M107.3 246.7h0M100.7 253.6h0M107.1 250.1h0M104.3 250.4h0M108.8 250.2h0M104.3 252.0h0M107.5 249.5h0M106.9 248.3h0M104.9 250.9h0M103.0 253.2h0M104.4 253.1h0M103.9 252.8h0M101.6 253.0h0M106.5 247.6h0M109.3 248.3h0M99.1 257.2h0M103.6 253.1h0M103.5 251.9h0M107.0 248.8h0M105.8 249.0h0M104.4 254.9h0M102.8 251.8h0M105.2 253.3h0M103.4 251.8h0M106.8 251.2h0M103.7 252.2h0M106.5 255.2h0M105.9 254.0h0M104.6 252.7h0M100.4 257.2h0M104.3 251.6h0M102.3 251.9h0M101.6 255.9h0M103.1 253.5h0M103.6 252.0h0M104.9 255.4h0M101.7 254.3h0M102.7 251.8h0M103.4 255.1h0M106.6 249.8h0M112.1 244.6h0M106.3 248.2h0M108.5 250.7h0M105.5 254.5h0M101.7 253.0h0M103.6 251.4h0M104.7 249.5h0M102.7 250.1h0M105.5 253.0h0M104.3 252.9h0M105.7 248.3h0M101.9 255.2h0" stroke="#b0b8ff" stroke-width="0.7" stroke-linecap="round" fill="none" opacity="0.5"/>
<path d="M110.4 244.3h0M106.2 247.2h0M105.1 245.3h0M109.4 245.9h0M107.6 244.0h0M112.3 244.2h0M107.7 245.1h0M108.6 245.5h0M100.1 246.5h0M109.4 243.5h0M108.6 248.4h0M110.2 244.3h0M114.4 243.4h0M106.6 246.4h0M105.7 244.4h0M114.3 241.7h0M109.2 245.1h0M110.0 242.7h0M108.5 244.6h0M106.9 246.6h0M111.8 244.3h0M108.5 244.7h0M103.6 245.0h0M113.2 246.3h0M111.1 241.2h0M108.1 243.3h0M112.0 242.1h0M105.3 244.0h0M111.1 245.8h0M106.5 248.0h0M109.8 243.6h0M110.7 244.7h0M112.5 244.8h0M107.3 246.4h0M111.9 243.0h0M106.5 244.3h0M100.6 247.4h0M108.9 246.7h0M107.4 245.4h0M112.3 245.8h0M110.3 243.3h0M114.8 246.3h0M114.6 244.6h0M111.3 245.5h0M104.1 247.0h0M106.0 246.1h0M105.9 246.5h0M108.3 248.7h0M110.2 245.5h0M106.1 245.1h0M109.1 244.5h0M107.6 244.0h0M112.1 243.9h0M106.5 245.9h0M106.4 245.2h0M107.3 243.9h0M108.4 243.9h0M104.9 246.2h0M108.0 243.1h0M108.0 245.4h0" stroke="#a4aeff" stroke-width="0.7" stroke-linecap="round" fill="none" opacity="0.55"/>
<ellipse cx="110.2" cy="244.7" rx="5.0" ry="2.4" fill="url(#blob2)" opacity="0.6" transform="rotate(-10 110.2 244.7)"/>
<ellipse cx="98.5" cy="260.0" rx="6.8" ry="6.5" fill="url(#blob)"/>
<text class="f" x="98.05" y="231.10" font-size="3.4" text-anchor="middle" font-weight="bold">H<tspan font-size="60%" dy="0.9">2</tspan><tspan dy="-0.9">O</tspan><tspan font-size="60%" dy="0.9">2</tspan><tspan dy="-0.9"> +PSP2-1 (100 μg/mL)</tspan></text>
<line x1="83.45" y1="267.00" x2="83.45" y2="267.90" stroke="#777" stroke-width="0.4"/>
<text class="f" x="83.45" y="270.60" font-size="2.2" text-anchor="middle" fill="#666">10</text>
<line x1="90.75" y1="267.00" x2="90.75" y2="267.90" stroke="#777" stroke-width="0.4"/>
<text class="f" x="90.75" y="270.60" font-size="2.2" text-anchor="middle" fill="#666">10</text>
<line x1="98.05" y1="267.00" x2="98.05" y2="267.90" stroke="#777" stroke-width="0.4"/>
<text class="f" x="98.05" y="270.60" font-size="2.2" text-anchor="middle" fill="#666">10</text>
<line x1="105.35" y1="267.00" x2="105.35" y2="267.90" stroke="#777" stroke-width="0.4"/>
<text class="f" x="105.35" y="270.60" font-size="2.2" text-anchor="middle" fill="#666">10</text>
<line x1="112.65" y1="267.00" x2="112.65" y2="267.90" stroke="#777" stroke-width="0.4"/>
<text class="f" x="112.65" y="270.60" font-size="2.2" text-anchor="middle" fill="#666">10</text>
<line x1="78.90" y1="235.72" x2="79.80" y2="235.72" stroke="#777" stroke-width="0.4"/>
<text class="f" x="78.40" y="236.52" font-size="2.2" text-anchor="end" fill="#666">10</text>
<line x1="78.90" y1="243.54" x2="79.80" y2="243.54" stroke="#777" stroke-width="0.4"/>
<text class="f" x="78.40" y="244.34" font-size="2.2" text-anchor="end" fill="#666">10</text>
<line x1="78.90" y1="251.36" x2="79.80" y2="251.36" stroke="#777" stroke-width="0.4"/>
<text class="f" x="78.40" y="252.16" font-size="2.2" text-anchor="end" fill="#666">10</text>
<line x1="78.90" y1="259.18" x2="79.80" y2="259.18" stroke="#777" stroke-width="0.4"/>
<text class="f" x="78.40" y="259.98" font-size="2.2" text-anchor="end" fill="#666">10</text>
<text class="f" x="80.60" y="235.40" font-size="2.2" fill="#666">Q1</text>
<text class="f" x="115.50" y="235.40" font-size="2.2" text-anchor="end" fill="#666">Q2</text>
<text class="f" x="80.60" y="266.00" font-size="2.2" fill="#666">Q4</text>
<text class="f" x="115.50" y="266.00" font-size="2.2" text-anchor="end" fill="#666">Q3</text>
<rect x="134.10" y="233.00" width="36.40" height="34.00" fill="#fff" stroke="#777" stroke-width="0.5"/>
<line x1="158.90" y1="233.00" x2="158.90" y2="267.00" stroke="#a8a8a8" stroke-width="0.5"/>
<line x1="134.10" y1="250.60" x2="170.50" y2="250.60" stroke="#a8a8a8" stroke-width="0.5"/>
<path d="M153.1 261.7h0M152.3 262.5h0M148.9 257.6h0M153.9 259.0h0M151.2 262.7h0M155.4 264.7h0M148.0 259.1h0M153.7 255.4h0M145.4 262.5h0M148.4 257.2h0M154.8 262.3h0M155.3 259.2h0M149.8 259.2h0M152.5 253.3h0M148.0 262.9h0M147.6 260.2h0M151.7 262.2h0M149.0 256.4h0M162.4 257.9h0M158.9 254.2h0M151.6 259.7h0M155.6 256.9h0M147.5 257.8h0M148.8 261.3h0M147.6 259.5h0M157.8 265.4h0M142.7 257.1h0M149.5 264.9h0M152.8 265.4h0M147.3 259.3h0M155.8 262.4h0M142.7 259.4h0M152.0 262.6h0M148.3 266.5h0M151.8 265.5h0M153.0 260.7h0M149.7 256.3h0M155.1 263.1h0M155.4 259.1h0M146.6 259.1h0M149.7 260.4h0M155.6 257.2h0M148.9 262.8h0M153.5 257.4h0M146.4 257.6h0M151.5 261.3h0M150.8 258.3h0M150.3 260.1h0M153.8 260.7h0M147.5 256.3h0M157.8 260.1h0M150.4 260.3h0M156.2 259.3h0M151.9 259.6h0M153.8 256.9h0M152.1 264.0h0M156.5 262.6h0M152.5 265.9h0M154.3 265.3h0M145.7 256.6h0M154.8 259.5h0M149.2 257.1h0M157.9 256.2h0M151.6 255.5h0M162.1 258.7h0M146.6 266.1h0M147.3 254.2h0M152.7 256.6h0M144.6 264.3h0M147.9 256.7h0M151.9 259.7h0M156.2 260.7h0M158.3 264.4h0M159.2 264.3h0M151.5 262.3h0M151.3 255.0h0M145.9 263.0h0M140.5 257.5h0M145.4 260.2h0M146.5 261.3h0M150.3 258.8h0M147.4 252.7h0M151.5 255.9h0M149.8 261.7h0M155.9 262.9h0M157.8 255.5h0M154.2 265.9h0M152.9 256.5h0M153.0 258.6h0M148.3 264.1h0M150.4 256.5h0M147.4 262.8h0M152.0 264.5h0M149.9 257.1h0M148.3 256.8h0M162.8 261.1h0M149.7 264.8h0M154.1 259.8h0M154.0 261.4h0M156.2 266.2h0M149.8 260.3h0M150.4 264.7h0M152.9 263.1h0M155.2 258.2h0M151.8 265.2h0M155.3 263.2h0M149.9 259.2h0M147.3 259.5h0M150.9 255.4h0M156.4 257.7h0M152.3 262.5h0M148.7 254.1h0M155.5 261.8h0M150.0 264.4h0M155.2 257.1h0M150.8 254.3h0M150.0 265.3h0M147.4 263.3h0M144.4 259.4h0M155.4 266.4h0M153.2 263.0h0M158.9 251.9h0M162.3 262.5h0M151.5 261.3h0M151.3 258.3h0M151.1 260.0h0M154.2 262.8h0M155.6 262.5h0M146.8 265.3h0M139.2 260.8h0M152.7 258.6h0M159.6 256.6h0M145.9 258.7h0M153.1 263.2h0M151.7 262.7h0M148.0 258.3h0M151.8 255.7h0M152.0 259.0h0M154.2 256.9h0M148.8 258.4h0M149.5 256.9h0M150.0 255.7h0M153.6 262.7h0M151.1 259.8h0" stroke="#a9b2ff" stroke-width="0.7" stroke-linecap="round" fill="none" opacity="0.5"/>
<path d="M154.7 253.3h0M156.2 251.7h0M155.3 255.0h0M157.1 251.7h0M155.8 253.9h0M155.7 253.3h0M158.6 252.1h0M158.5 249.6h0M158.9 248.0h0M158.5 253.5h0M162.6 246.2h0M156.4 252.5h0M154.9 254.8h0M155.9 252.4h0M159.2 248.4h0M161.9 248.5h0M158.3 249.9h0M154.5 251.5h0M157.8 251.1h0M157.7 250.4h0M157.0 249.5h0M153.5 257.7h0M156.6 246.7h0M159.8 248.5h0M155.7 251.1h0M156.2 255.0h0M156.0 253.7h0M159.2 254.0h0M158.0 248.7h0M155.4 252.2h0M154.0 254.8h0M159.8 249.3h0M158.8 250.2h0M156.7 253.1h0M159.3 253.8h0M161.6 247.9h0M156.8 248.8h0M159.7 254.3h0M156.7 254.6h0M159.6 248.6h0M156.6 252.1h0M159.2 250.0h0M161.8 249.3h0M160.1 254.2h0M156.3 252.2h0M156.2 251.8h0M156.6 252.9h0M157.8 248.5h0M153.9 254.7h0M157.4 253.1h0M157.4 255.2h0M156.2 253.1h0M158.8 252.8h0M158.2 251.3h0M156.6 253.4h0" stroke="#b0b8ff" stroke-width="0.7" stroke-linecap="round" fill="none" opacity="0.5"/>
<path d="M164.4 244.2h0M162.5 242.4h0M161.4 246.8h0M168.1 243.9h0M155.8 248.8h0M163.1 248.5h0M161.8 246.5h0M161.2 247.2h0M166.9 242.7h0M168.4 248.0h0M162.0 243.4h0M163.9 244.2h0M157.5 244.4h0M163.5 242.6h0M167.0 244.8h0M162.7 246.9h0M159.9 246.4h0M158.1 245.3h0M165.2 243.8h0M162.8 245.9h0M168.8 245.7h0M164.6 244.2h0M158.3 248.2h0M169.2 240.8h0M166.1 244.3h0M165.6 244.9h0M162.4 245.0h0M163.2 246.5h0M162.0 244.3h0M165.5 245.4h0M164.7 245.0h0M168.6 245.5h0M163.7 244.5h0M164.9 241.9h0M161.0 244.2h0M163.6 244.3h0M165.0 247.7h0M163.0 244.5h0M167.6 245.3h0M166.6 246.0h0M161.6 244.2h0M160.5 245.5h0M166.3 242.8h0M160.8 243.4h0M163.5 243.1h0M159.2 244.6h0M162.8 243.1h0" stroke="#a4aeff" stroke-width="0.7" stroke-linecap="round" fill="none" opacity="0.55"/>
<ellipse cx="163.8" cy="244.7" rx="5.0" ry="2.4" fill="url(#blob2)" opacity="0.45" transform="rotate(-10 163.8 244.7)"/>
<ellipse cx="151.6" cy="260.1" rx="7.4" ry="7.0" fill="url(#blob)"/>
<text class="f" x="152.30" y="231.10" font-size="3.4" text-anchor="middle" font-weight="bold">H<tspan font-size="60%" dy="0.9">2</tspan><tspan dy="-0.9">O</tspan><tspan font-size="60%" dy="0.9">2</tspan><tspan dy="-0.9"> +PSP2-1 (150 μg/mL)</tspan></text>
<line x1="137.74" y1="267.00" x2="137.74" y2="267.90" stroke="#777" stroke-width="0.4"/>
<text class="f" x="137.74" y="270.60" font-size="2.2" text-anchor="middle" fill="#666">10</text>
<line x1="145.02" y1="267.00" x2="145.02" y2="267.90" stroke="#777" stroke-width="0.4"/>
<text class="f" x="145.02" y="270.60" font-size="2.2" text-anchor="middle" fill="#666">10</text>
<line x1="152.30" y1="267.00" x2="152.30" y2="267.90" stroke="#777" stroke-width="0.4"/>
<text class="f" x="152.30" y="270.60" font-size="2.2" text-anchor="middle" fill="#666">10</text>
<line x1="159.58" y1="267.00" x2="159.58" y2="267.90" stroke="#777" stroke-width="0.4"/>
<text class="f" x="159.58" y="270.60" font-size="2.2" text-anchor="middle" fill="#666">10</text>
<line x1="166.86" y1="267.00" x2="166.86" y2="267.90" stroke="#777" stroke-width="0.4"/>
<text class="f" x="166.86" y="270.60" font-size="2.2" text-anchor="middle" fill="#666">10</text>
<line x1="133.20" y1="235.72" x2="134.10" y2="235.72" stroke="#777" stroke-width="0.4"/>
<text class="f" x="132.70" y="236.52" font-size="2.2" text-anchor="end" fill="#666">10</text>
<line x1="133.20" y1="243.54" x2="134.10" y2="243.54" stroke="#777" stroke-width="0.4"/>
<text class="f" x="132.70" y="244.34" font-size="2.2" text-anchor="end" fill="#666">10</text>
<line x1="133.20" y1="251.36" x2="134.10" y2="251.36" stroke="#777" stroke-width="0.4"/>
<text class="f" x="132.70" y="252.16" font-size="2.2" text-anchor="end" fill="#666">10</text>
<line x1="133.20" y1="259.18" x2="134.10" y2="259.18" stroke="#777" stroke-width="0.4"/>
<text class="f" x="132.70" y="259.98" font-size="2.2" text-anchor="end" fill="#666">10</text>
<text class="f" x="134.90" y="235.40" font-size="2.2" fill="#666">Q1</text>
<text class="f" x="169.70" y="235.40" font-size="2.2" text-anchor="end" fill="#666">Q2</text>
<text class="f" x="134.90" y="266.00" font-size="2.2" fill="#666">Q4</text>
<text class="f" x="169.70" y="266.00" font-size="2.2" text-anchor="end" fill="#666">Q3</text>
<line x1="205.30" y1="188.50" x2="205.30" y2="258.00" stroke="#000" stroke-width="0.55"/>
<line x1="203.70" y1="257.90" x2="205.30" y2="257.90" stroke="#000" stroke-width="0.5"/>
<text class="f" x="202.90" y="259.29" font-size="4.2" text-anchor="end">0</text>
<line x1="203.70" y1="244.25" x2="205.30" y2="244.25" stroke="#000" stroke-width="0.5"/>
<text class="f" x="202.90" y="245.64" font-size="4.2" text-anchor="end">4</text>
<line x1="203.70" y1="230.60" x2="205.30" y2="230.60" stroke="#000" stroke-width="0.5"/>
<text class="f" x="202.90" y="231.99" font-size="4.2" text-anchor="end">8</text>
<line x1="203.70" y1="216.95" x2="205.30" y2="216.95" stroke="#000" stroke-width="0.5"/>
<text class="f" x="202.90" y="218.34" font-size="4.2" text-anchor="end">12</text>
<line x1="203.70" y1="203.30" x2="205.30" y2="203.30" stroke="#000" stroke-width="0.5"/>
<text class="f" x="202.90" y="204.69" font-size="4.2" text-anchor="end">16</text>
<line x1="203.70" y1="189.65" x2="205.30" y2="189.65" stroke="#000" stroke-width="0.5"/>
<text class="f" x="202.90" y="191.04" font-size="4.2" text-anchor="end">20</text>
<rect x="206.40" y="251.25" width="14.80" height="6.75" fill="#000"/>
<line x1="213.80" y1="249.60" x2="213.80" y2="251.75" stroke="#000" stroke-width="0.55"/>
<line x1="212.70" y1="249.60" x2="214.90" y2="249.60" stroke="#000" stroke-width="0.55"/>
<rect x="224.90" y="197.67" width="14.80" height="60.33" fill="#000"/>
<line x1="232.30" y1="191.70" x2="232.30" y2="198.17" stroke="#000" stroke-width="0.55"/>
<line x1="231.20" y1="191.70" x2="233.40" y2="191.70" stroke="#000" stroke-width="0.55"/>
<rect x="243.50" y="206.71" width="14.80" height="51.29" fill="#000"/>
<line x1="250.90" y1="197.90" x2="250.90" y2="207.21" stroke="#000" stroke-width="0.55"/>
<line x1="249.80" y1="197.90" x2="252.00" y2="197.90" stroke="#000" stroke-width="0.55"/>
<rect x="262.10" y="219.00" width="14.80" height="39.00" fill="#000"/>
<line x1="269.50" y1="210.20" x2="269.50" y2="219.50" stroke="#000" stroke-width="0.55"/>
<line x1="268.40" y1="210.20" x2="270.60" y2="210.20" stroke="#000" stroke-width="0.55"/>
<rect x="280.70" y="229.92" width="14.80" height="28.08" fill="#000"/>
<line x1="288.10" y1="220.80" x2="288.10" y2="230.42" stroke="#000" stroke-width="0.55"/>
<line x1="287.00" y1="220.80" x2="289.20" y2="220.80" stroke="#000" stroke-width="0.55"/>
<line x1="205.30" y1="258.00" x2="297.00" y2="258.00" stroke="#000" stroke-width="0.4"/>
<text class="f" x="213.80" y="261.30" font-size="4.7" text-anchor="middle">Control</text>
<text class="f" x="250.90" y="261.30" font-size="4.7" text-anchor="middle">50</text>
<text class="f" x="269.50" y="261.30" font-size="4.7" text-anchor="middle">100</text>
<text class="f" x="288.10" y="261.30" font-size="4.7" text-anchor="middle">150</text>
<text class="f" x="232.30" y="189.20" font-size="6.2" text-anchor="middle" font-style="italic">###</text>
<text class="f" x="269.50" y="209.00" font-size="6.6" text-anchor="middle">*</text>
<text class="f" x="288.10" y="219.40" font-size="6.6" text-anchor="middle">**</text>
<text class="f" x="191.60" y="220.40" font-size="3.6" text-anchor="middle" transform="rotate(-90 191.60 220.40)">Apoptosis ratio</text>
<text class="f" x="195.50" y="220.40" font-size="3.6" text-anchor="middle" transform="rotate(-90 195.50 220.40)">(% of total cells)</text>
<line x1="243.80" y1="262.60" x2="293.80" y2="262.60" stroke="#000" stroke-width="0.65" stroke-dasharray="1.7 1.25"/>
<line x1="228.50" y1="267.70" x2="293.80" y2="267.70" stroke="#000" stroke-width="0.65" stroke-dasharray="1.7 1.25"/>
<text class="f" x="287.80" y="266.50" font-size="4.7" text-anchor="end">PSP2-1 (μg/mL)</text>
<text class="f" x="291.20" y="272.20" font-size="4.7" text-anchor="end">H<tspan font-size="60%" dy="0.9">2</tspan><tspan dy="-0.9">O</tspan><tspan font-size="60%" dy="0.9">2</tspan><tspan dy="-0.9"> (500 μmol/L)</tspan></text>
<rect x="317.00" y="177.40" width="105.10" height="95.40" fill="#fff" stroke="#757575" stroke-width="1.0"/>
<path d="M316.7 271.8 L319.8 269.9 L323.8 266.5 L326.1 262.6 L327.9 257.4 L329.5 258.4 L331.3 251.6 L334.5 242.7 L336.1 238.6 L337.4 241.4 L339.2 229.9 L340.8 221.8 L341.8 225.5 L343.1 214.8 L344.4 218.7 L346.0 214.0 L347.6 219.2 L349.1 216.6 L350.7 220.3 L352.0 225.0 L353.3 234.4 L354.6 244.8 L355.9 255.3 L358.0 264.4 L360.6 269.7 L364.3 272.3" fill="none" stroke="#10c0ff" stroke-width="1.0" stroke-linejoin="round"/>
<path d="M331.6 272.3 L338.1 268.4 L342.1 261.8 L344.7 255.3 L347.3 246.1 L349.9 234.4 L352.5 222.6 L354.4 214.8 L355.9 212.2 L357.2 214.8 L359.1 223.9 L360.9 234.4 L363.0 244.8 L365.6 255.3 L368.2 261.8 L372.1 267.1 L376.1 269.7 L380.5 271.8 L387.8 272.3" fill="none" stroke="#ff1010" stroke-width="0.85" stroke-linejoin="round" stroke-dasharray="1.8 0.4"/>
<path d="M327.7 272.3 L335.5 268.4 L339.5 261.8 L342.1 254.0 L344.7 244.8 L347.3 234.4 L349.9 223.9 L351.7 214.8 L353.3 210.8 L354.6 213.5 L356.4 218.7 L358.5 229.1 L360.4 242.2 L362.2 255.3 L364.3 264.4 L366.9 269.7 L370.8 272.3" fill="none" stroke="#ff9418" stroke-width="0.85" stroke-linejoin="round" stroke-dasharray="1.8 0.4"/>
<path d="M322.5 272.3 L330.3 268.4 L335.5 260.5 L338.1 252.7 L340.8 244.8 L343.4 234.4 L346.0 226.5 L348.6 218.7 L350.7 212.2 L352.5 210.8 L353.8 216.1 L355.1 226.5 L357.0 239.6 L359.1 255.3 L361.7 265.7 L365.6 270.5 L370.8 272.3" fill="none" stroke="#10f010" stroke-width="0.95" stroke-linejoin="round"/>
<path d="M317.2 272.3 L322.5 270.5 L326.6 266.3 L329.3 260.0 L331.1 260.5 L332.9 252.7 L336.1 242.7 L337.6 239.1 L338.9 242.2 L340.8 229.1 L342.3 221.3 L343.4 225.0 L344.9 213.5 L346.5 209.5 L347.6 217.4 L348.6 214.8 L349.9 218.7 L351.2 216.1 L352.5 223.9 L353.8 234.4 L355.1 244.8 L356.4 255.3 L359.1 264.4 L361.7 269.7 L365.6 272.3" fill="none" stroke="#0a5010" stroke-width="0.9" stroke-linejoin="round"/>
<line x1="359.00" y1="181.80" x2="365.60" y2="181.80" stroke="#10c0ff" stroke-width="1.3"/>
<text class="f" x="367.80" y="183.30" font-size="4.5">Control</text>
<line x1="359.00" y1="188.20" x2="365.60" y2="188.20" stroke="#ff1010" stroke-width="1.3"/>
<text class="f" x="367.80" y="189.70" font-size="4.5">H<tspan font-size="60%" dy="0.9">2</tspan><tspan dy="-0.9">O</tspan><tspan font-size="60%" dy="0.9">2</tspan><tspan dy="-0.9"> (500 μmol/L)</tspan></text>
<line x1="359.00" y1="194.60" x2="365.60" y2="194.60" stroke="#ff9a1a" stroke-width="1.3"/>
<text class="f" x="367.80" y="196.10" font-size="4.5">H<tspan font-size="60%" dy="0.9">2</tspan><tspan dy="-0.9">O</tspan><tspan font-size="60%" dy="0.9">2</tspan><tspan dy="-0.9">+PSP2-1 (50 μg/mL)</tspan></text>
<line x1="359.00" y1="201.00" x2="365.60" y2="201.00" stroke="#10f010" stroke-width="1.3"/>
<text class="f" x="367.80" y="202.50" font-size="4.5">H<tspan font-size="60%" dy="0.9">2</tspan><tspan dy="-0.9">O</tspan><tspan font-size="60%" dy="0.9">2</tspan><tspan dy="-0.9">+ PSP2-1 (100 μg/mL)</tspan></text>
<line x1="359.00" y1="207.40" x2="365.60" y2="207.40" stroke="#0a5010" stroke-width="1.3"/>
<text class="f" x="367.80" y="208.90" font-size="4.5">H<tspan font-size="60%" dy="0.9">2</tspan><tspan dy="-0.9">O</tspan><tspan font-size="60%" dy="0.9">2</tspan><tspan dy="-0.9">+ PSP2-1 (150 μg/mL)</tspan></text>
<line x1="450.70" y1="184.10" x2="450.70" y2="249.20" stroke="#000" stroke-width="1.0"/>
<line x1="449.60" y1="248.70" x2="543.40" y2="248.70" stroke="#000" stroke-width="1.0"/>
<line x1="448.60" y1="248.70" x2="450.70" y2="248.70" stroke="#000" stroke-width="0.9"/>
<text class="f" x="448.00" y="250.40" font-size="5.1" text-anchor="end" font-weight="bold">0</text>
<line x1="448.60" y1="232.65" x2="450.70" y2="232.65" stroke="#000" stroke-width="0.9"/>
<text class="f" x="448.00" y="234.35" font-size="5.1" text-anchor="end" font-weight="bold">100</text>
<line x1="448.60" y1="216.60" x2="450.70" y2="216.60" stroke="#000" stroke-width="0.9"/>
<text class="f" x="448.00" y="218.30" font-size="5.1" text-anchor="end" font-weight="bold">200</text>
<line x1="448.60" y1="200.55" x2="450.70" y2="200.55" stroke="#000" stroke-width="0.9"/>
<text class="f" x="448.00" y="202.25" font-size="5.1" text-anchor="end" font-weight="bold">300</text>
<line x1="448.60" y1="184.50" x2="450.70" y2="184.50" stroke="#000" stroke-width="0.9"/>
<text class="f" x="448.00" y="186.20" font-size="5.1" text-anchor="end" font-weight="bold">400</text>
<line x1="463.10" y1="228.90" x2="463.10" y2="229.70" stroke="#000" stroke-width="0.8"/>
<line x1="459.30" y1="228.90" x2="466.90" y2="228.90" stroke="#000" stroke-width="0.8"/>
<rect x="457.35" y="229.70" width="11.50" height="19.00" fill="#000" stroke="#000" stroke-width="0.7"/>
<line x1="481.40" y1="198.80" x2="481.40" y2="205.00" stroke="#000" stroke-width="0.8"/>
<line x1="477.60" y1="198.80" x2="485.20" y2="198.80" stroke="#000" stroke-width="0.8"/>
<rect x="475.65" y="205.00" width="11.50" height="43.70" fill="#a6a6a6" stroke="#000" stroke-width="0.7"/>
<line x1="499.35" y1="218.00" x2="499.35" y2="221.50" stroke="#000" stroke-width="0.8"/>
<line x1="495.55" y1="218.00" x2="503.15" y2="218.00" stroke="#000" stroke-width="0.8"/>
<rect x="493.75" y="221.50" width="11.20" height="27.20" fill="#7f7f7f" stroke="#000" stroke-width="0.7"/>
<line x1="517.45" y1="220.40" x2="517.45" y2="222.00" stroke="#000" stroke-width="0.8"/>
<line x1="513.65" y1="220.40" x2="521.25" y2="220.40" stroke="#000" stroke-width="0.8"/>
<rect x="511.85" y="222.00" width="11.20" height="26.70" fill="#d9d9d9" stroke="#000" stroke-width="0.7"/>
<line x1="535.55" y1="223.50" x2="535.55" y2="224.40" stroke="#000" stroke-width="0.8"/>
<line x1="531.75" y1="223.50" x2="539.35" y2="223.50" stroke="#000" stroke-width="0.8"/>
<rect x="529.95" y="224.40" width="11.20" height="24.30" fill="#595959" stroke="#000" stroke-width="0.7"/>
<text class="f" x="481.30" y="197.40" font-size="4.4" text-anchor="middle" font-weight="bold">###</text>
<text class="f" x="499.30" y="217.60" font-size="4.4" text-anchor="middle" font-weight="bold">*</text>
<text class="f" x="517.40" y="220.30" font-size="4.4" text-anchor="middle" font-weight="bold">*</text>
<text class="f" x="535.50" y="222.40" font-size="4.4" text-anchor="middle" font-weight="bold">**</text>
<text class="f" x="463.00" y="256.70" font-size="5.3" text-anchor="middle" font-weight="bold">Control</text>
<text class="f" x="481.00" y="256.70" font-size="5.3" text-anchor="middle" font-weight="bold">Model</text>
<text class="f" x="499.30" y="256.70" font-size="5.3" text-anchor="middle" font-weight="bold">50</text>
<text class="f" x="517.20" y="256.70" font-size="5.3" text-anchor="middle" font-weight="bold">100</text>
<text class="f" x="535.30" y="256.70" font-size="5.3" text-anchor="middle" font-weight="bold">150</text>
<line x1="492.60" y1="259.70" x2="543.60" y2="259.70" stroke="#000" stroke-width="0.9" stroke-dasharray="1.0 1.0"/>
<text class="f" x="541.80" y="266.00" font-size="5.3" text-anchor="end" font-weight="bold">PSP2-1 (μg/mL)</text>
<line x1="475.80" y1="268.50" x2="546.00" y2="268.50" stroke="#000" stroke-width="0.8"/>
<text class="f" x="512.30" y="275.20" font-size="5.3" text-anchor="middle" font-weight="bold">H<tspan font-size="60%" dy="0.9">2</tspan><tspan dy="-0.9">O</tspan><tspan font-size="60%" dy="0.9">2</tspan><tspan dy="-0.9"> (500 μmol/L)</tspan></text>
<text class="f" x="435.90" y="215.50" font-size="5.1" text-anchor="middle" font-weight="bold" transform="rotate(-90 435.90 215.50)">ROS fluorescence intensity</text>
</svg></body></html>
